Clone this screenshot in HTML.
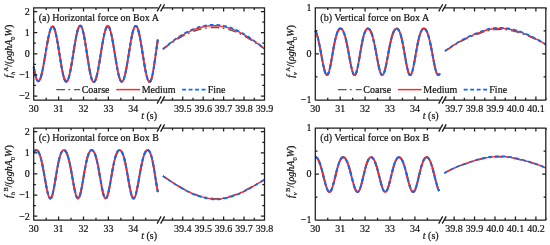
<!DOCTYPE html>
<html lang="en"><head><meta charset="utf-8"><title>Force histories</title>
<style>html,body{margin:0;padding:0;background:#fff;}svg{display:block;}text{stroke:#111;stroke-width:.2px;}</style>
</head><body>
<svg width="550" height="245" viewBox="0 0 550 245" font-family="'Liberation Serif', serif" font-size="10" fill="#111111">
<rect width="550" height="245" fill="#ffffff"/>
<g id="panel-a">
<g fill="none" stroke-linejoin="round">
<path d="M33.70,66.78 L34.01,68.51 L34.32,70.15 L34.63,71.71 L34.94,73.17 L35.26,74.53 L35.57,75.78 L35.88,76.91 L36.19,77.92 L36.50,78.81 L36.81,79.56 L37.12,80.17 L37.43,80.65 L37.75,80.98 L38.06,81.17 L38.37,81.21 L38.68,81.12 L38.99,80.90 L39.30,80.56 L39.61,80.09 L39.92,79.51 L40.24,78.80 L40.55,77.97 L40.86,77.03 L41.17,75.99 L41.48,74.84 L41.79,73.59 L42.10,72.25 L42.41,70.83 L42.73,69.33 L43.04,67.75 L43.35,66.11 L43.66,64.41 L43.97,62.66 L44.28,60.88 L44.59,59.06 L44.90,57.21 L45.22,55.35 L45.53,53.48 L45.84,51.62 L46.15,49.76 L46.46,47.92 L46.77,46.12 L47.08,44.34 L47.39,42.61 L47.71,40.94 L48.02,39.32 L48.33,37.78 L48.64,36.30 L48.95,34.91 L49.26,33.61 L49.57,32.40 L49.88,31.29 L50.20,30.29 L50.51,29.40 L50.82,28.62 L51.13,27.96 L51.44,27.41 L51.75,27.00 L52.06,26.71 L52.37,26.54 L52.69,26.50 L53.00,26.60 L53.31,26.84 L53.62,27.22 L53.93,27.73 L54.24,28.38 L54.55,29.16 L54.86,30.06 L55.18,31.09 L55.49,32.24 L55.80,33.49 L56.11,34.85 L56.42,36.31 L56.73,37.86 L57.04,39.50 L57.35,41.20 L57.67,42.97 L57.98,44.80 L58.29,46.68 L58.60,48.59 L58.91,50.53 L59.22,52.49 L59.53,54.46 L59.84,56.43 L60.16,58.38 L60.47,60.31 L60.78,62.21 L61.09,64.07 L61.40,65.88 L61.71,67.62 L62.02,69.30 L62.33,70.90 L62.65,72.42 L62.96,73.84 L63.27,75.16 L63.58,76.37 L63.89,77.47 L64.20,78.45 L64.51,79.30 L64.82,80.03 L65.14,80.63 L65.45,81.09 L65.76,81.41 L66.07,81.59 L66.38,81.63 L66.69,81.54 L67.00,81.30 L67.31,80.93 L67.63,80.43 L67.94,79.79 L68.25,79.03 L68.56,78.14 L68.87,77.13 L69.18,76.01 L69.49,74.77 L69.80,73.44 L70.12,72.00 L70.43,70.48 L70.74,68.87 L71.05,67.18 L71.36,65.43 L71.67,63.63 L71.98,61.77 L72.29,59.87 L72.61,57.95 L72.92,56.00 L73.23,54.04 L73.54,52.07 L73.85,50.12 L74.16,48.18 L74.47,46.27 L74.78,44.40 L75.10,42.57 L75.41,40.80 L75.72,39.09 L76.03,37.45 L76.34,35.89 L76.65,34.41 L76.96,33.04 L77.27,31.76 L77.59,30.59 L77.90,29.54 L78.21,28.60 L78.52,27.78 L78.83,27.10 L79.14,26.54 L79.45,26.12 L79.76,25.83 L80.08,25.68 L80.39,25.67 L80.70,25.80 L81.01,26.08 L81.32,26.51 L81.63,27.09 L81.94,27.80 L82.25,28.65 L82.57,29.64 L82.88,30.75 L83.19,31.99 L83.50,33.34 L83.81,34.80 L84.12,36.36 L84.43,38.02 L84.74,39.75 L85.06,41.57 L85.37,43.44 L85.68,45.38 L85.99,47.35 L86.30,49.36 L86.61,51.40 L86.92,53.45 L87.23,55.50 L87.55,57.54 L87.86,59.56 L88.17,61.55 L88.48,63.50 L88.79,65.40 L89.10,67.24 L89.41,69.01 L89.72,70.70 L90.04,72.30 L90.35,73.80 L90.66,75.19 L90.97,76.48 L91.28,77.64 L91.59,78.68 L91.90,79.59 L92.21,80.36 L92.53,80.99 L92.84,81.47 L93.15,81.82 L93.46,82.01 L93.77,82.05 L94.08,81.96 L94.39,81.73 L94.70,81.37 L95.02,80.88 L95.33,80.26 L95.64,79.51 L95.95,78.64 L96.26,77.65 L96.57,76.55 L96.88,75.34 L97.19,74.02 L97.51,72.61 L97.82,71.12 L98.13,69.54 L98.44,67.88 L98.75,66.16 L99.06,64.38 L99.37,62.55 L99.68,60.68 L100.00,58.78 L100.31,56.86 L100.62,54.92 L100.93,52.98 L101.24,51.04 L101.55,49.12 L101.86,47.22 L102.17,45.36 L102.49,43.54 L102.80,41.76 L103.11,40.05 L103.42,38.40 L103.73,36.83 L104.04,35.35 L104.35,33.95 L104.66,32.65 L104.98,31.45 L105.29,30.36 L105.60,29.39 L105.91,28.53 L106.22,27.80 L106.53,27.19 L106.84,26.71 L107.15,26.37 L107.47,26.15 L107.78,26.08 L108.09,26.13 L108.40,26.32 L108.71,26.65 L109.02,27.11 L109.33,27.69 L109.64,28.41 L109.96,29.24 L110.27,30.20 L110.58,31.27 L110.89,32.46 L111.20,33.74 L111.51,35.12 L111.82,36.60 L112.13,38.16 L112.45,39.79 L112.76,41.49 L113.07,43.26 L113.38,45.07 L113.69,46.93 L114.00,48.82 L114.31,50.74 L114.62,52.67 L114.94,54.61 L115.25,56.54 L115.56,58.46 L115.87,60.36 L116.18,62.23 L116.49,64.06 L116.80,65.83 L117.11,67.56 L117.43,69.21 L117.74,70.79 L118.05,72.29 L118.36,73.70 L118.67,75.01 L118.98,76.22 L119.29,77.33 L119.60,78.32 L119.92,79.19 L120.23,79.94 L120.54,80.56 L120.85,81.05 L121.16,81.41 L121.47,81.64 L121.78,81.74 L122.09,81.70 L122.41,81.52 L122.72,81.20 L123.03,80.75 L123.34,80.17 L123.65,79.46 L123.96,78.62 L124.27,77.66 L124.58,76.59 L124.90,75.40 L125.21,74.10 L125.52,72.71 L125.83,71.22 L126.14,69.65 L126.45,68.00 L126.76,66.28 L127.07,64.49 L127.39,62.66 L127.70,60.78 L128.01,58.87 L128.32,56.93 L128.63,54.98 L128.94,53.02 L129.25,51.06 L129.56,49.12 L129.88,47.20 L130.19,45.32 L130.50,43.47 L130.81,41.68 L131.12,39.95 L131.43,38.28 L131.74,36.69 L132.05,35.19 L132.37,33.77 L132.68,32.46 L132.99,31.25 L133.30,30.15 L133.61,29.16 L133.92,28.30 L134.23,27.56 L134.54,26.96 L134.86,26.48 L135.17,26.14 L135.48,25.93 L135.79,25.86 L136.10,25.94 L136.41,26.15 L136.72,26.49 L137.03,26.98 L137.35,27.60 L137.66,28.35 L137.97,29.24 L138.28,30.24 L138.59,31.36 L138.90,32.60 L139.21,33.94 L139.52,35.38 L139.84,36.92 L140.15,38.54 L140.46,40.23 L140.77,42.00 L141.08,43.82 L141.39,45.70 L141.70,47.61 L142.01,49.56 L142.33,51.53 L142.64,53.51 L142.95,55.49 L143.26,57.47 L143.57,59.43 L143.88,61.36 L144.19,63.25 L144.50,65.10 L144.82,66.89 L145.13,68.61 L145.44,70.26 L145.75,71.83 L146.06,73.31 L146.37,74.70 L146.68,75.97 L146.99,77.14 L147.31,78.19 L147.62,79.13 L147.93,79.93 L148.24,80.60 L148.55,81.14 L148.86,81.55 L149.17,81.81 L149.48,81.94 L149.80,81.92 L150.11,81.73 L150.42,81.36 L150.73,80.82 L151.04,80.11 L151.35,79.23 L151.66,78.19 L151.97,77.01 L152.29,75.67 L152.60,74.20 L152.91,72.61 L153.22,70.89 L153.53,69.07 L153.84,67.15 L154.15,65.15 L154.46,63.08 L154.78,60.95 L155.09,58.78 L155.40,56.57 L155.71,54.35 L156.02,52.13 L156.33,49.92 L156.64,47.73 L156.95,45.58 L157.27,43.49 L157.58,41.46 L157.89,39.50" stroke="#585858" stroke-width="1.9" stroke-dasharray="8.5 3.5 1.8 4"/>
<path d="M162.90,49.45 L164.37,48.29 L165.84,47.16 L167.32,46.05 L168.79,44.96 L170.26,43.90 L171.73,42.87 L173.21,41.87 L174.68,40.89 L176.15,39.95 L177.62,39.03 L179.10,38.15 L180.57,37.30 L182.04,36.48 L183.51,35.70 L184.99,34.95 L186.46,34.24 L187.93,33.57 L189.40,32.93 L190.88,32.32 L192.35,31.75 L193.82,31.22 L195.29,30.71 L196.77,30.24 L198.24,29.80 L199.71,29.39 L201.18,29.02 L202.66,28.68 L204.13,28.37 L205.60,28.11 L207.07,27.89 L208.55,27.71 L210.02,27.58 L211.49,27.49 L212.96,27.45 L214.44,27.44 L215.91,27.48 L217.38,27.56 L218.85,27.68 L220.33,27.84 L221.80,28.04 L223.27,28.29 L224.74,28.57 L226.22,28.89 L227.69,29.25 L229.16,29.65 L230.63,30.09 L232.11,30.57 L233.58,31.09 L235.05,31.65 L236.52,32.25 L238.00,32.89 L239.47,33.57 L240.94,34.29 L242.41,35.04 L243.89,35.83 L245.36,36.65 L246.83,37.49 L248.30,38.36 L249.78,39.25 L251.25,40.17 L252.72,41.09 L254.19,42.04 L255.67,42.99 L257.14,43.96 L258.61,44.93 L260.08,45.90 L261.56,46.88 L263.03,47.85 L264.50,48.82" stroke="#585858" stroke-width="1.4" stroke-dasharray="8.5 3.5 1.8 4"/>
<path d="M33.70,66.78 L34.01,68.51 L34.32,70.15 L34.63,71.71 L34.94,73.17 L35.26,74.53 L35.57,75.78 L35.88,76.91 L36.19,77.92 L36.50,78.81 L36.81,79.56 L37.12,80.17 L37.43,80.65 L37.75,80.98 L38.06,81.17 L38.37,81.21 L38.68,81.12 L38.99,80.90 L39.30,80.56 L39.61,80.09 L39.92,79.51 L40.24,78.80 L40.55,77.97 L40.86,77.03 L41.17,75.99 L41.48,74.84 L41.79,73.59 L42.10,72.25 L42.41,70.83 L42.73,69.33 L43.04,67.75 L43.35,66.11 L43.66,64.41 L43.97,62.66 L44.28,60.88 L44.59,59.06 L44.90,57.21 L45.22,55.35 L45.53,53.48 L45.84,51.62 L46.15,49.76 L46.46,47.92 L46.77,46.12 L47.08,44.34 L47.39,42.61 L47.71,40.94 L48.02,39.32 L48.33,37.78 L48.64,36.30 L48.95,34.91 L49.26,33.61 L49.57,32.40 L49.88,31.29 L50.20,30.29 L50.51,29.40 L50.82,28.62 L51.13,27.96 L51.44,27.41 L51.75,27.00 L52.06,26.71 L52.37,26.54 L52.69,26.50 L53.00,26.60 L53.31,26.84 L53.62,27.22 L53.93,27.73 L54.24,28.38 L54.55,29.16 L54.86,30.06 L55.18,31.09 L55.49,32.24 L55.80,33.49 L56.11,34.85 L56.42,36.31 L56.73,37.86 L57.04,39.50 L57.35,41.20 L57.67,42.97 L57.98,44.80 L58.29,46.68 L58.60,48.59 L58.91,50.53 L59.22,52.49 L59.53,54.46 L59.84,56.43 L60.16,58.38 L60.47,60.31 L60.78,62.21 L61.09,64.07 L61.40,65.88 L61.71,67.62 L62.02,69.30 L62.33,70.90 L62.65,72.42 L62.96,73.84 L63.27,75.16 L63.58,76.37 L63.89,77.47 L64.20,78.45 L64.51,79.30 L64.82,80.03 L65.14,80.63 L65.45,81.09 L65.76,81.41 L66.07,81.59 L66.38,81.63 L66.69,81.54 L67.00,81.30 L67.31,80.93 L67.63,80.43 L67.94,79.79 L68.25,79.03 L68.56,78.14 L68.87,77.13 L69.18,76.01 L69.49,74.77 L69.80,73.44 L70.12,72.00 L70.43,70.48 L70.74,68.87 L71.05,67.18 L71.36,65.43 L71.67,63.63 L71.98,61.77 L72.29,59.87 L72.61,57.95 L72.92,56.00 L73.23,54.04 L73.54,52.07 L73.85,50.12 L74.16,48.18 L74.47,46.27 L74.78,44.40 L75.10,42.57 L75.41,40.80 L75.72,39.09 L76.03,37.45 L76.34,35.89 L76.65,34.41 L76.96,33.04 L77.27,31.76 L77.59,30.59 L77.90,29.54 L78.21,28.60 L78.52,27.78 L78.83,27.10 L79.14,26.54 L79.45,26.12 L79.76,25.83 L80.08,25.68 L80.39,25.67 L80.70,25.80 L81.01,26.08 L81.32,26.51 L81.63,27.09 L81.94,27.80 L82.25,28.65 L82.57,29.64 L82.88,30.75 L83.19,31.99 L83.50,33.34 L83.81,34.80 L84.12,36.36 L84.43,38.02 L84.74,39.75 L85.06,41.57 L85.37,43.44 L85.68,45.38 L85.99,47.35 L86.30,49.36 L86.61,51.40 L86.92,53.45 L87.23,55.50 L87.55,57.54 L87.86,59.56 L88.17,61.55 L88.48,63.50 L88.79,65.40 L89.10,67.24 L89.41,69.01 L89.72,70.70 L90.04,72.30 L90.35,73.80 L90.66,75.19 L90.97,76.48 L91.28,77.64 L91.59,78.68 L91.90,79.59 L92.21,80.36 L92.53,80.99 L92.84,81.47 L93.15,81.82 L93.46,82.01 L93.77,82.05 L94.08,81.96 L94.39,81.73 L94.70,81.37 L95.02,80.88 L95.33,80.26 L95.64,79.51 L95.95,78.64 L96.26,77.65 L96.57,76.55 L96.88,75.34 L97.19,74.02 L97.51,72.61 L97.82,71.12 L98.13,69.54 L98.44,67.88 L98.75,66.16 L99.06,64.38 L99.37,62.55 L99.68,60.68 L100.00,58.78 L100.31,56.86 L100.62,54.92 L100.93,52.98 L101.24,51.04 L101.55,49.12 L101.86,47.22 L102.17,45.36 L102.49,43.54 L102.80,41.76 L103.11,40.05 L103.42,38.40 L103.73,36.83 L104.04,35.35 L104.35,33.95 L104.66,32.65 L104.98,31.45 L105.29,30.36 L105.60,29.39 L105.91,28.53 L106.22,27.80 L106.53,27.19 L106.84,26.71 L107.15,26.37 L107.47,26.15 L107.78,26.08 L108.09,26.13 L108.40,26.32 L108.71,26.65 L109.02,27.11 L109.33,27.69 L109.64,28.41 L109.96,29.24 L110.27,30.20 L110.58,31.27 L110.89,32.46 L111.20,33.74 L111.51,35.12 L111.82,36.60 L112.13,38.16 L112.45,39.79 L112.76,41.49 L113.07,43.26 L113.38,45.07 L113.69,46.93 L114.00,48.82 L114.31,50.74 L114.62,52.67 L114.94,54.61 L115.25,56.54 L115.56,58.46 L115.87,60.36 L116.18,62.23 L116.49,64.06 L116.80,65.83 L117.11,67.56 L117.43,69.21 L117.74,70.79 L118.05,72.29 L118.36,73.70 L118.67,75.01 L118.98,76.22 L119.29,77.33 L119.60,78.32 L119.92,79.19 L120.23,79.94 L120.54,80.56 L120.85,81.05 L121.16,81.41 L121.47,81.64 L121.78,81.74 L122.09,81.70 L122.41,81.52 L122.72,81.20 L123.03,80.75 L123.34,80.17 L123.65,79.46 L123.96,78.62 L124.27,77.66 L124.58,76.59 L124.90,75.40 L125.21,74.10 L125.52,72.71 L125.83,71.22 L126.14,69.65 L126.45,68.00 L126.76,66.28 L127.07,64.49 L127.39,62.66 L127.70,60.78 L128.01,58.87 L128.32,56.93 L128.63,54.98 L128.94,53.02 L129.25,51.06 L129.56,49.12 L129.88,47.20 L130.19,45.32 L130.50,43.47 L130.81,41.68 L131.12,39.95 L131.43,38.28 L131.74,36.69 L132.05,35.19 L132.37,33.77 L132.68,32.46 L132.99,31.25 L133.30,30.15 L133.61,29.16 L133.92,28.30 L134.23,27.56 L134.54,26.96 L134.86,26.48 L135.17,26.14 L135.48,25.93 L135.79,25.86 L136.10,25.94 L136.41,26.15 L136.72,26.49 L137.03,26.98 L137.35,27.60 L137.66,28.35 L137.97,29.24 L138.28,30.24 L138.59,31.36 L138.90,32.60 L139.21,33.94 L139.52,35.38 L139.84,36.92 L140.15,38.54 L140.46,40.23 L140.77,42.00 L141.08,43.82 L141.39,45.70 L141.70,47.61 L142.01,49.56 L142.33,51.53 L142.64,53.51 L142.95,55.49 L143.26,57.47 L143.57,59.43 L143.88,61.36 L144.19,63.25 L144.50,65.10 L144.82,66.89 L145.13,68.61 L145.44,70.26 L145.75,71.83 L146.06,73.31 L146.37,74.70 L146.68,75.97 L146.99,77.14 L147.31,78.19 L147.62,79.13 L147.93,79.93 L148.24,80.60 L148.55,81.14 L148.86,81.55 L149.17,81.81 L149.48,81.94 L149.80,81.92 L150.11,81.73 L150.42,81.36 L150.73,80.82 L151.04,80.11 L151.35,79.23 L151.66,78.19 L151.97,77.01 L152.29,75.67 L152.60,74.20 L152.91,72.61 L153.22,70.89 L153.53,69.07 L153.84,67.15 L154.15,65.15 L154.46,63.08 L154.78,60.95 L155.09,58.78 L155.40,56.57 L155.71,54.35 L156.02,52.13 L156.33,49.92 L156.64,47.73 L156.95,45.58 L157.27,43.49 L157.58,41.46 L157.89,39.50" stroke="#ff2626" stroke-width="1.9"/>
<path d="M162.90,49.17 L164.37,47.93 L165.84,46.72 L167.32,45.54 L168.79,44.38 L170.26,43.25 L171.73,42.15 L173.21,41.08 L174.68,40.04 L176.15,39.03 L177.62,38.06 L179.10,37.11 L180.57,36.21 L182.04,35.34 L183.51,34.50 L184.99,33.71 L186.46,32.95 L187.93,32.23 L189.40,31.55 L190.88,30.90 L192.35,30.29 L193.82,29.72 L195.29,29.19 L196.77,28.68 L198.24,28.21 L199.71,27.78 L201.18,27.38 L202.66,27.01 L204.13,26.69 L205.60,26.41 L207.07,26.18 L208.55,25.99 L210.02,25.85 L211.49,25.75 L212.96,25.70 L214.44,25.70 L215.91,25.74 L217.38,25.82 L218.85,25.95 L220.33,26.12 L221.80,26.34 L223.27,26.60 L224.74,26.90 L226.22,27.24 L227.69,27.62 L229.16,28.05 L230.63,28.52 L232.11,29.03 L233.58,29.59 L235.05,30.18 L236.52,30.82 L238.00,31.51 L239.47,32.23 L240.94,33.00 L242.41,33.80 L243.89,34.64 L245.36,35.51 L246.83,36.41 L248.30,37.34 L249.78,38.29 L251.25,39.27 L252.72,40.26 L254.19,41.26 L255.67,42.28 L257.14,43.31 L258.61,44.34 L260.08,45.38 L261.56,46.42 L263.03,47.46 L264.50,48.49" stroke="#ff2626" stroke-width="1.4"/>
<path d="M33.70,66.78 L34.01,68.51 L34.32,70.15 L34.63,71.71 L34.94,73.17 L35.26,74.53 L35.57,75.78 L35.88,76.91 L36.19,77.92 L36.50,78.81 L36.81,79.56 L37.12,80.17 L37.43,80.65 L37.75,80.98 L38.06,81.17 L38.37,81.21 L38.68,81.12 L38.99,80.90 L39.30,80.56 L39.61,80.09 L39.92,79.51 L40.24,78.80 L40.55,77.97 L40.86,77.03 L41.17,75.99 L41.48,74.84 L41.79,73.59 L42.10,72.25 L42.41,70.83 L42.73,69.33 L43.04,67.75 L43.35,66.11 L43.66,64.41 L43.97,62.66 L44.28,60.88 L44.59,59.06 L44.90,57.21 L45.22,55.35 L45.53,53.48 L45.84,51.62 L46.15,49.76 L46.46,47.92 L46.77,46.12 L47.08,44.34 L47.39,42.61 L47.71,40.94 L48.02,39.32 L48.33,37.78 L48.64,36.30 L48.95,34.91 L49.26,33.61 L49.57,32.40 L49.88,31.29 L50.20,30.29 L50.51,29.40 L50.82,28.62 L51.13,27.96 L51.44,27.41 L51.75,27.00 L52.06,26.71 L52.37,26.54 L52.69,26.50 L53.00,26.60 L53.31,26.84 L53.62,27.22 L53.93,27.73 L54.24,28.38 L54.55,29.16 L54.86,30.06 L55.18,31.09 L55.49,32.24 L55.80,33.49 L56.11,34.85 L56.42,36.31 L56.73,37.86 L57.04,39.50 L57.35,41.20 L57.67,42.97 L57.98,44.80 L58.29,46.68 L58.60,48.59 L58.91,50.53 L59.22,52.49 L59.53,54.46 L59.84,56.43 L60.16,58.38 L60.47,60.31 L60.78,62.21 L61.09,64.07 L61.40,65.88 L61.71,67.62 L62.02,69.30 L62.33,70.90 L62.65,72.42 L62.96,73.84 L63.27,75.16 L63.58,76.37 L63.89,77.47 L64.20,78.45 L64.51,79.30 L64.82,80.03 L65.14,80.63 L65.45,81.09 L65.76,81.41 L66.07,81.59 L66.38,81.63 L66.69,81.54 L67.00,81.30 L67.31,80.93 L67.63,80.43 L67.94,79.79 L68.25,79.03 L68.56,78.14 L68.87,77.13 L69.18,76.01 L69.49,74.77 L69.80,73.44 L70.12,72.00 L70.43,70.48 L70.74,68.87 L71.05,67.18 L71.36,65.43 L71.67,63.63 L71.98,61.77 L72.29,59.87 L72.61,57.95 L72.92,56.00 L73.23,54.04 L73.54,52.07 L73.85,50.12 L74.16,48.18 L74.47,46.27 L74.78,44.40 L75.10,42.57 L75.41,40.80 L75.72,39.09 L76.03,37.45 L76.34,35.89 L76.65,34.41 L76.96,33.04 L77.27,31.76 L77.59,30.59 L77.90,29.54 L78.21,28.60 L78.52,27.78 L78.83,27.10 L79.14,26.54 L79.45,26.12 L79.76,25.83 L80.08,25.68 L80.39,25.67 L80.70,25.80 L81.01,26.08 L81.32,26.51 L81.63,27.09 L81.94,27.80 L82.25,28.65 L82.57,29.64 L82.88,30.75 L83.19,31.99 L83.50,33.34 L83.81,34.80 L84.12,36.36 L84.43,38.02 L84.74,39.75 L85.06,41.57 L85.37,43.44 L85.68,45.38 L85.99,47.35 L86.30,49.36 L86.61,51.40 L86.92,53.45 L87.23,55.50 L87.55,57.54 L87.86,59.56 L88.17,61.55 L88.48,63.50 L88.79,65.40 L89.10,67.24 L89.41,69.01 L89.72,70.70 L90.04,72.30 L90.35,73.80 L90.66,75.19 L90.97,76.48 L91.28,77.64 L91.59,78.68 L91.90,79.59 L92.21,80.36 L92.53,80.99 L92.84,81.47 L93.15,81.82 L93.46,82.01 L93.77,82.05 L94.08,81.96 L94.39,81.73 L94.70,81.37 L95.02,80.88 L95.33,80.26 L95.64,79.51 L95.95,78.64 L96.26,77.65 L96.57,76.55 L96.88,75.34 L97.19,74.02 L97.51,72.61 L97.82,71.12 L98.13,69.54 L98.44,67.88 L98.75,66.16 L99.06,64.38 L99.37,62.55 L99.68,60.68 L100.00,58.78 L100.31,56.86 L100.62,54.92 L100.93,52.98 L101.24,51.04 L101.55,49.12 L101.86,47.22 L102.17,45.36 L102.49,43.54 L102.80,41.76 L103.11,40.05 L103.42,38.40 L103.73,36.83 L104.04,35.35 L104.35,33.95 L104.66,32.65 L104.98,31.45 L105.29,30.36 L105.60,29.39 L105.91,28.53 L106.22,27.80 L106.53,27.19 L106.84,26.71 L107.15,26.37 L107.47,26.15 L107.78,26.08 L108.09,26.13 L108.40,26.32 L108.71,26.65 L109.02,27.11 L109.33,27.69 L109.64,28.41 L109.96,29.24 L110.27,30.20 L110.58,31.27 L110.89,32.46 L111.20,33.74 L111.51,35.12 L111.82,36.60 L112.13,38.16 L112.45,39.79 L112.76,41.49 L113.07,43.26 L113.38,45.07 L113.69,46.93 L114.00,48.82 L114.31,50.74 L114.62,52.67 L114.94,54.61 L115.25,56.54 L115.56,58.46 L115.87,60.36 L116.18,62.23 L116.49,64.06 L116.80,65.83 L117.11,67.56 L117.43,69.21 L117.74,70.79 L118.05,72.29 L118.36,73.70 L118.67,75.01 L118.98,76.22 L119.29,77.33 L119.60,78.32 L119.92,79.19 L120.23,79.94 L120.54,80.56 L120.85,81.05 L121.16,81.41 L121.47,81.64 L121.78,81.74 L122.09,81.70 L122.41,81.52 L122.72,81.20 L123.03,80.75 L123.34,80.17 L123.65,79.46 L123.96,78.62 L124.27,77.66 L124.58,76.59 L124.90,75.40 L125.21,74.10 L125.52,72.71 L125.83,71.22 L126.14,69.65 L126.45,68.00 L126.76,66.28 L127.07,64.49 L127.39,62.66 L127.70,60.78 L128.01,58.87 L128.32,56.93 L128.63,54.98 L128.94,53.02 L129.25,51.06 L129.56,49.12 L129.88,47.20 L130.19,45.32 L130.50,43.47 L130.81,41.68 L131.12,39.95 L131.43,38.28 L131.74,36.69 L132.05,35.19 L132.37,33.77 L132.68,32.46 L132.99,31.25 L133.30,30.15 L133.61,29.16 L133.92,28.30 L134.23,27.56 L134.54,26.96 L134.86,26.48 L135.17,26.14 L135.48,25.93 L135.79,25.86 L136.10,25.94 L136.41,26.15 L136.72,26.49 L137.03,26.98 L137.35,27.60 L137.66,28.35 L137.97,29.24 L138.28,30.24 L138.59,31.36 L138.90,32.60 L139.21,33.94 L139.52,35.38 L139.84,36.92 L140.15,38.54 L140.46,40.23 L140.77,42.00 L141.08,43.82 L141.39,45.70 L141.70,47.61 L142.01,49.56 L142.33,51.53 L142.64,53.51 L142.95,55.49 L143.26,57.47 L143.57,59.43 L143.88,61.36 L144.19,63.25 L144.50,65.10 L144.82,66.89 L145.13,68.61 L145.44,70.26 L145.75,71.83 L146.06,73.31 L146.37,74.70 L146.68,75.97 L146.99,77.14 L147.31,78.19 L147.62,79.13 L147.93,79.93 L148.24,80.60 L148.55,81.14 L148.86,81.55 L149.17,81.81 L149.48,81.94 L149.80,81.92 L150.11,81.73 L150.42,81.36 L150.73,80.82 L151.04,80.11 L151.35,79.23 L151.66,78.19 L151.97,77.01 L152.29,75.67 L152.60,74.20 L152.91,72.61 L153.22,70.89 L153.53,69.07 L153.84,67.15 L154.15,65.15 L154.46,63.08 L154.78,60.95 L155.09,58.78 L155.40,56.57 L155.71,54.35 L156.02,52.13 L156.33,49.92 L156.64,47.73 L156.95,45.58 L157.27,43.49 L157.58,41.46 L157.89,39.50" stroke="#0a6cf5" stroke-width="2.0" stroke-dasharray="3.8 2.9"/>
<path d="M162.90,49.00 L164.37,47.72 L165.84,46.47 L167.32,45.24 L168.79,44.04 L170.26,42.87 L171.73,41.73 L173.21,40.62 L174.68,39.54 L176.15,38.50 L177.62,37.49 L179.10,36.51 L180.57,35.57 L182.04,34.67 L183.51,33.80 L184.99,32.98 L186.46,32.19 L187.93,31.45 L189.40,30.74 L190.88,30.07 L192.35,29.44 L193.82,28.85 L195.29,28.29 L196.77,27.77 L198.24,27.29 L199.71,26.84 L201.18,26.42 L202.66,26.05 L204.13,25.71 L205.60,25.42 L207.07,25.18 L208.55,24.98 L210.02,24.83 L211.49,24.74 L212.96,24.68 L214.44,24.68 L215.91,24.72 L217.38,24.81 L218.85,24.94 L220.33,25.12 L221.80,25.35 L223.27,25.61 L224.74,25.92 L226.22,26.28 L227.69,26.68 L229.16,27.12 L230.63,27.60 L232.11,28.13 L233.58,28.71 L235.05,29.33 L236.52,29.99 L238.00,30.70 L239.47,31.45 L240.94,32.24 L242.41,33.08 L243.89,33.95 L245.36,34.85 L246.83,35.78 L248.30,36.75 L249.78,37.73 L251.25,38.74 L252.72,39.77 L254.19,40.81 L255.67,41.86 L257.14,42.93 L258.61,44.00 L260.08,45.08 L261.56,46.15 L263.03,47.23 L264.50,48.30" stroke="#0a6cf5" stroke-width="1.6" stroke-dasharray="3.8 2.9"/>
</g>
<path d="M33.70,7.80 H158.20 M162.30,7.80 H264.50 M33.70,100.00 H158.20 M162.30,100.00 H264.50 M33.70,7.30 V100.50 M264.50,7.30 V100.50 M33.70,100.00 v-3.6 M33.70,7.80 v3.6 M46.15,100.00 v-2.2 M46.15,7.80 v2.2 M58.60,100.00 v-3.6 M58.60,7.80 v3.6 M71.05,100.00 v-2.2 M71.05,7.80 v2.2 M83.50,100.00 v-3.6 M83.50,7.80 v3.6 M95.95,100.00 v-2.2 M95.95,7.80 v2.2 M108.40,100.00 v-3.6 M108.40,7.80 v3.6 M120.85,100.00 v-2.2 M120.85,7.80 v2.2 M133.30,100.00 v-3.6 M133.30,7.80 v3.6 M145.75,100.00 v-2.2 M145.75,7.80 v2.2 M172.52,100.00 v-2.2 M172.52,7.80 v2.2 M182.74,100.00 v-3.6 M182.74,7.80 v3.6 M192.96,100.00 v-2.2 M192.96,7.80 v2.2 M203.18,100.00 v-3.6 M203.18,7.80 v3.6 M213.40,100.00 v-2.2 M213.40,7.80 v2.2 M223.62,100.00 v-3.6 M223.62,7.80 v3.6 M233.84,100.00 v-2.2 M233.84,7.80 v2.2 M244.06,100.00 v-3.6 M244.06,7.80 v3.6 M254.28,100.00 v-2.2 M254.28,7.80 v2.2 M264.50,100.00 v-3.6 M264.50,7.80 v3.6 M33.70,96.00 h3.6 M264.50,96.00 h-3.6 M33.70,85.44 h2.2 M264.50,85.44 h-2.2 M33.70,74.88 h3.6 M264.50,74.88 h-3.6 M33.70,64.31 h2.2 M264.50,64.31 h-2.2 M33.70,53.75 h3.6 M264.50,53.75 h-3.6 M33.70,43.19 h2.2 M264.50,43.19 h-2.2 M33.70,32.62 h3.6 M264.50,32.62 h-3.6 M33.70,22.06 h2.2 M264.50,22.06 h-2.2 M33.70,11.50 h3.6 M264.50,11.50 h-3.6" fill="none" stroke="#1c1c1c" stroke-width="1.25"/>
<path d="M157.10,11.40 L161.10,4.20 M160.60,11.40 L164.60,4.20 M157.10,103.60 L161.10,96.40 M160.60,103.60 L164.60,96.40" fill="none" stroke="#1c1c1c" stroke-width="1.3"/>
<g text-anchor="middle">
<text x="33.7" y="112.1">30</text>
<text x="58.6" y="112.1">31</text>
<text x="83.5" y="112.1">32</text>
<text x="108.4" y="112.1">33</text>
<text x="133.3" y="112.1">34</text>
<text x="182.7" y="112.1">39.5</text>
<text x="203.2" y="112.1">39.6</text>
<text x="223.6" y="112.1">39.7</text>
<text x="244.1" y="112.1">39.8</text>
<text x="264.5" y="112.1">39.9</text>
</g>
<g text-anchor="end">
<text x="29.8" y="14.8">2</text>
<text x="29.8" y="35.9">1</text>
<text x="29.8" y="57.0">0</text>
<text x="29.8" y="78.2">−1</text>
<text x="29.8" y="99.3">−2</text>
</g>
<text x="149.1" y="119.2" text-anchor="middle"><tspan font-style="italic">t</tspan> (s)</text>
<text x="38.7" y="20.6">(a) Horizontal force on Box A</text>
<text transform="translate(12.1,77.8) rotate(-90)" font-style="italic"><tspan>f</tspan><tspan font-size="6.5" dy="2.7">h</tspan><tspan font-size="6.5" dy="-6.9" dx="0.4" font-style="normal">A</tspan><tspan dy="4.2" font-style="normal">/(</tspan><tspan>ρghA</tspan><tspan font-size="6.5" dy="2.8" font-style="normal">0</tspan><tspan dy="-2.8">W</tspan><tspan font-style="normal">)</tspan></text>
<g fill="none" stroke-width="1.45">
<path d="M56.3,89.6 h23.8" stroke="#585858" stroke-dasharray="8.7 3.3 1.8 4"/>
<path d="M116.3,89.6 h23.7" stroke="#ff2626"/>
<path d="M182.1,89.6 h23.4" stroke="#0a6cf5" stroke-width="1.7" stroke-dasharray="3.9 2.6"/>
</g>
<text x="81.7" y="92.9">Coarse</text>
<text x="141.7" y="92.9">Medium</text>
<text x="207.7" y="92.9">Fine</text>
</g>
<g id="panel-b">
<g fill="none" stroke-linejoin="round">
<path d="M315.30,30.72 L315.61,31.31 L315.92,31.97 L316.23,32.72 L316.54,33.54 L316.86,34.44 L317.17,35.42 L317.48,36.47 L317.79,37.61 L318.10,38.82 L318.41,40.10 L318.72,41.46 L319.03,42.88 L319.35,44.36 L319.66,45.90 L319.97,47.49 L320.28,49.12 L320.59,50.79 L320.90,52.48 L321.21,54.19 L321.52,55.90 L321.84,57.61 L322.15,59.30 L322.46,60.97 L322.77,62.59 L323.08,64.16 L323.39,65.67 L323.70,67.10 L324.01,68.44 L324.33,69.69 L324.64,70.82 L324.95,71.84 L325.26,72.74 L325.57,73.49 L325.88,74.11 L326.19,74.59 L326.50,74.91 L326.82,75.08 L327.13,75.09 L327.44,74.94 L327.75,74.61 L328.06,74.12 L328.37,73.46 L328.68,72.65 L328.99,71.69 L329.31,70.59 L329.62,69.36 L329.93,68.02 L330.24,66.57 L330.55,65.02 L330.86,63.40 L331.17,61.71 L331.48,59.97 L331.80,58.20 L332.11,56.40 L332.42,54.59 L332.73,52.79 L333.04,51.00 L333.35,49.23 L333.66,47.51 L333.97,45.83 L334.29,44.21 L334.60,42.65 L334.91,41.16 L335.22,39.75 L335.53,38.42 L335.84,37.17 L336.15,36.00 L336.46,34.93 L336.78,33.94 L337.09,33.04 L337.40,32.22 L337.71,31.49 L338.02,30.85 L338.33,30.29 L338.64,29.80 L338.95,29.40 L339.27,29.08 L339.58,28.84 L339.89,28.66 L340.20,28.57 L340.51,28.55 L340.82,28.59 L341.13,28.71 L341.44,28.89 L341.76,29.13 L342.07,29.45 L342.38,29.84 L342.69,30.30 L343.00,30.83 L343.31,31.43 L343.62,32.12 L343.93,32.87 L344.25,33.71 L344.56,34.63 L344.87,35.62 L345.18,36.69 L345.49,37.84 L345.80,39.07 L346.11,40.37 L346.42,41.73 L346.74,43.17 L347.05,44.66 L347.36,46.22 L347.67,47.81 L347.98,49.45 L348.29,51.13 L348.60,52.82 L348.91,54.53 L349.23,56.25 L349.54,57.95 L349.85,59.64 L350.16,61.30 L350.47,62.91 L350.78,64.47 L351.09,65.96 L351.40,67.37 L351.72,68.70 L352.03,69.92 L352.34,71.04 L352.65,72.03 L352.96,72.90 L353.27,73.63 L353.58,74.22 L353.89,74.66 L354.21,74.95 L354.52,75.09 L354.83,75.07 L355.14,74.88 L355.45,74.50 L355.76,73.96 L356.07,73.25 L356.38,72.37 L356.70,71.35 L357.01,70.18 L357.32,68.89 L357.63,67.48 L357.94,65.96 L358.25,64.35 L358.56,62.67 L358.87,60.92 L359.19,59.13 L359.50,57.31 L359.81,55.47 L360.12,53.63 L360.43,51.80 L360.74,49.99 L361.05,48.21 L361.36,46.48 L361.68,44.81 L361.99,43.20 L362.30,41.66 L362.61,40.19 L362.92,38.81 L363.23,37.51 L363.54,36.30 L363.85,35.18 L364.17,34.15 L364.48,33.21 L364.79,32.36 L365.10,31.61 L365.41,30.94 L365.72,30.35 L366.03,29.85 L366.34,29.44 L366.66,29.10 L366.97,28.85 L367.28,28.67 L367.59,28.57 L367.90,28.55 L368.21,28.59 L368.52,28.70 L368.83,28.87 L369.15,29.11 L369.46,29.42 L369.77,29.79 L370.08,30.24 L370.39,30.75 L370.70,31.33 L371.01,31.99 L371.32,32.72 L371.64,33.53 L371.95,34.41 L372.26,35.37 L372.57,36.40 L372.88,37.51 L373.19,38.70 L373.50,39.95 L373.81,41.27 L374.13,42.66 L374.44,44.11 L374.75,45.62 L375.06,47.17 L375.37,48.77 L375.68,50.40 L375.99,52.06 L376.30,53.73 L376.62,55.41 L376.93,57.10 L377.24,58.76 L377.55,60.41 L377.86,62.02 L378.17,63.58 L378.48,65.09 L378.79,66.53 L379.11,67.88 L379.42,69.15 L379.73,70.32 L380.04,71.37 L380.35,72.31 L380.66,73.12 L380.97,73.80 L381.28,74.35 L381.60,74.75 L381.91,75.00 L382.22,75.10 L382.53,75.06 L382.84,74.86 L383.15,74.52 L383.46,74.04 L383.77,73.41 L384.09,72.65 L384.40,71.76 L384.71,70.75 L385.02,69.63 L385.33,68.40 L385.64,67.08 L385.95,65.67 L386.26,64.19 L386.58,62.65 L386.89,61.06 L387.20,59.43 L387.51,57.77 L387.82,56.09 L388.13,54.40 L388.44,52.72 L388.75,51.06 L389.07,49.41 L389.38,47.80 L389.69,46.23 L390.00,44.71 L390.31,43.24 L390.62,41.82 L390.93,40.47 L391.24,39.19 L391.56,37.98 L391.87,36.84 L392.18,35.77 L392.49,34.79 L392.80,33.87 L393.11,33.04 L393.42,32.27 L393.73,31.59 L394.05,30.97 L394.36,30.43 L394.67,29.96 L394.98,29.56 L395.29,29.23 L395.60,28.96 L395.91,28.76 L396.22,28.63 L396.54,28.56 L396.85,28.55 L397.16,28.62 L397.47,28.76 L397.78,28.97 L398.09,29.27 L398.40,29.64 L398.71,30.08 L399.03,30.61 L399.34,31.22 L399.65,31.92 L399.96,32.70 L400.27,33.57 L400.58,34.52 L400.89,35.56 L401.20,36.69 L401.52,37.91 L401.83,39.21 L402.14,40.59 L402.45,42.05 L402.76,43.58 L403.07,45.18 L403.38,46.83 L403.69,48.54 L404.01,50.29 L404.32,52.07 L404.63,53.87 L404.94,55.68 L405.25,57.48 L405.56,59.27 L405.87,61.02 L406.18,62.73 L406.50,64.38 L406.81,65.96 L407.12,67.45 L407.43,68.84 L407.74,70.12 L408.05,71.27 L408.36,72.29 L408.67,73.16 L408.99,73.88 L409.30,74.43 L409.61,74.83 L409.92,75.05 L410.23,75.10 L410.54,74.99 L410.85,74.71 L411.16,74.26 L411.48,73.66 L411.79,72.91 L412.10,72.01 L412.41,70.97 L412.72,69.81 L413.03,68.53 L413.34,67.14 L413.65,65.66 L413.97,64.09 L414.28,62.46 L414.59,60.78 L414.90,59.05 L415.21,57.29 L415.52,55.52 L415.83,53.74 L416.14,51.98 L416.46,50.23 L416.77,48.51 L417.08,46.84 L417.39,45.21 L417.70,43.64 L418.01,42.14 L418.32,40.70 L418.63,39.34 L418.95,38.05 L419.26,36.85 L419.57,35.73 L419.88,34.69 L420.19,33.74 L420.50,32.87 L420.81,32.08 L421.12,31.38 L421.44,30.76 L421.75,30.22 L422.06,29.76 L422.37,29.37 L422.68,29.06 L422.99,28.83 L423.30,28.66 L423.61,28.57 L423.93,28.55 L424.24,28.59 L424.55,28.70 L424.86,28.87 L425.17,29.11 L425.48,29.42 L425.79,29.79 L426.10,30.24 L426.42,30.75 L426.73,31.33 L427.04,31.99 L427.35,32.72 L427.66,33.53 L427.97,34.41 L428.28,35.37 L428.59,36.40 L428.91,37.51 L429.22,38.70 L429.53,39.95 L429.84,41.27 L430.15,42.66 L430.46,44.11 L430.77,45.62 L431.08,47.17 L431.40,48.77 L431.71,50.40 L432.02,52.06 L432.33,53.73 L432.64,55.41 L432.95,57.10 L433.26,58.76 L433.57,60.41 L433.89,62.02 L434.20,63.58 L434.51,65.09 L434.82,66.53 L435.13,67.88 L435.44,69.15 L435.75,70.32 L436.06,71.37 L436.38,72.31 L436.69,73.12 L437.00,73.80 L437.31,74.35 L437.62,74.75 L437.93,75.00 L438.24,75.10 L438.55,75.05 L438.87,74.85 L439.18,74.48 L439.49,73.96 L439.80,73.29" stroke="#585858" stroke-width="1.9" stroke-dasharray="8.5 3.5 1.8 4"/>
<path d="M445.00,51.19 L446.46,50.21 L447.92,49.25 L449.38,48.30 L450.84,47.36 L452.30,46.44 L453.77,45.54 L455.23,44.65 L456.69,43.79 L458.15,42.94 L459.61,42.12 L461.07,41.33 L462.53,40.56 L463.99,39.82 L465.45,39.10 L466.91,38.42 L468.37,37.77 L469.83,37.14 L471.30,36.54 L472.76,35.96 L474.22,35.40 L475.68,34.84 L477.14,34.30 L478.60,33.76 L480.06,33.22 L481.52,32.68 L482.98,32.16 L484.44,31.67 L485.90,31.22 L487.37,30.84 L488.83,30.51 L490.29,30.23 L491.75,30.00 L493.21,29.81 L494.67,29.65 L496.13,29.53 L497.59,29.45 L499.05,29.41 L500.51,29.40 L501.97,29.44 L503.43,29.51 L504.90,29.62 L506.36,29.78 L507.82,29.98 L509.28,30.21 L510.74,30.49 L512.20,30.80 L513.66,31.14 L515.12,31.52 L516.58,31.92 L518.04,32.35 L519.50,32.80 L520.97,33.28 L522.43,33.78 L523.89,34.31 L525.35,34.86 L526.81,35.43 L528.27,36.03 L529.73,36.65 L531.19,37.29 L532.65,37.96 L534.11,38.65 L535.57,39.36 L537.03,40.09 L538.50,40.84 L539.96,41.62 L541.42,42.41 L542.88,43.23 L544.34,44.07 L545.80,44.92" stroke="#585858" stroke-width="1.4" stroke-dasharray="8.5 3.5 1.8 4"/>
<path d="M315.30,30.72 L315.61,31.31 L315.92,31.97 L316.23,32.72 L316.54,33.54 L316.86,34.44 L317.17,35.42 L317.48,36.47 L317.79,37.61 L318.10,38.82 L318.41,40.10 L318.72,41.46 L319.03,42.88 L319.35,44.36 L319.66,45.90 L319.97,47.49 L320.28,49.12 L320.59,50.79 L320.90,52.48 L321.21,54.19 L321.52,55.90 L321.84,57.61 L322.15,59.30 L322.46,60.97 L322.77,62.59 L323.08,64.16 L323.39,65.67 L323.70,67.10 L324.01,68.44 L324.33,69.69 L324.64,70.82 L324.95,71.84 L325.26,72.74 L325.57,73.49 L325.88,74.11 L326.19,74.59 L326.50,74.91 L326.82,75.08 L327.13,75.09 L327.44,74.94 L327.75,74.61 L328.06,74.12 L328.37,73.46 L328.68,72.65 L328.99,71.69 L329.31,70.59 L329.62,69.36 L329.93,68.02 L330.24,66.57 L330.55,65.02 L330.86,63.40 L331.17,61.71 L331.48,59.97 L331.80,58.20 L332.11,56.40 L332.42,54.59 L332.73,52.79 L333.04,51.00 L333.35,49.23 L333.66,47.51 L333.97,45.83 L334.29,44.21 L334.60,42.65 L334.91,41.16 L335.22,39.75 L335.53,38.42 L335.84,37.17 L336.15,36.00 L336.46,34.93 L336.78,33.94 L337.09,33.04 L337.40,32.22 L337.71,31.49 L338.02,30.85 L338.33,30.29 L338.64,29.80 L338.95,29.40 L339.27,29.08 L339.58,28.84 L339.89,28.66 L340.20,28.57 L340.51,28.55 L340.82,28.59 L341.13,28.71 L341.44,28.89 L341.76,29.13 L342.07,29.45 L342.38,29.84 L342.69,30.30 L343.00,30.83 L343.31,31.43 L343.62,32.12 L343.93,32.87 L344.25,33.71 L344.56,34.63 L344.87,35.62 L345.18,36.69 L345.49,37.84 L345.80,39.07 L346.11,40.37 L346.42,41.73 L346.74,43.17 L347.05,44.66 L347.36,46.22 L347.67,47.81 L347.98,49.45 L348.29,51.13 L348.60,52.82 L348.91,54.53 L349.23,56.25 L349.54,57.95 L349.85,59.64 L350.16,61.30 L350.47,62.91 L350.78,64.47 L351.09,65.96 L351.40,67.37 L351.72,68.70 L352.03,69.92 L352.34,71.04 L352.65,72.03 L352.96,72.90 L353.27,73.63 L353.58,74.22 L353.89,74.66 L354.21,74.95 L354.52,75.09 L354.83,75.07 L355.14,74.88 L355.45,74.50 L355.76,73.96 L356.07,73.25 L356.38,72.37 L356.70,71.35 L357.01,70.18 L357.32,68.89 L357.63,67.48 L357.94,65.96 L358.25,64.35 L358.56,62.67 L358.87,60.92 L359.19,59.13 L359.50,57.31 L359.81,55.47 L360.12,53.63 L360.43,51.80 L360.74,49.99 L361.05,48.21 L361.36,46.48 L361.68,44.81 L361.99,43.20 L362.30,41.66 L362.61,40.19 L362.92,38.81 L363.23,37.51 L363.54,36.30 L363.85,35.18 L364.17,34.15 L364.48,33.21 L364.79,32.36 L365.10,31.61 L365.41,30.94 L365.72,30.35 L366.03,29.85 L366.34,29.44 L366.66,29.10 L366.97,28.85 L367.28,28.67 L367.59,28.57 L367.90,28.55 L368.21,28.59 L368.52,28.70 L368.83,28.87 L369.15,29.11 L369.46,29.42 L369.77,29.79 L370.08,30.24 L370.39,30.75 L370.70,31.33 L371.01,31.99 L371.32,32.72 L371.64,33.53 L371.95,34.41 L372.26,35.37 L372.57,36.40 L372.88,37.51 L373.19,38.70 L373.50,39.95 L373.81,41.27 L374.13,42.66 L374.44,44.11 L374.75,45.62 L375.06,47.17 L375.37,48.77 L375.68,50.40 L375.99,52.06 L376.30,53.73 L376.62,55.41 L376.93,57.10 L377.24,58.76 L377.55,60.41 L377.86,62.02 L378.17,63.58 L378.48,65.09 L378.79,66.53 L379.11,67.88 L379.42,69.15 L379.73,70.32 L380.04,71.37 L380.35,72.31 L380.66,73.12 L380.97,73.80 L381.28,74.35 L381.60,74.75 L381.91,75.00 L382.22,75.10 L382.53,75.06 L382.84,74.86 L383.15,74.52 L383.46,74.04 L383.77,73.41 L384.09,72.65 L384.40,71.76 L384.71,70.75 L385.02,69.63 L385.33,68.40 L385.64,67.08 L385.95,65.67 L386.26,64.19 L386.58,62.65 L386.89,61.06 L387.20,59.43 L387.51,57.77 L387.82,56.09 L388.13,54.40 L388.44,52.72 L388.75,51.06 L389.07,49.41 L389.38,47.80 L389.69,46.23 L390.00,44.71 L390.31,43.24 L390.62,41.82 L390.93,40.47 L391.24,39.19 L391.56,37.98 L391.87,36.84 L392.18,35.77 L392.49,34.79 L392.80,33.87 L393.11,33.04 L393.42,32.27 L393.73,31.59 L394.05,30.97 L394.36,30.43 L394.67,29.96 L394.98,29.56 L395.29,29.23 L395.60,28.96 L395.91,28.76 L396.22,28.63 L396.54,28.56 L396.85,28.55 L397.16,28.62 L397.47,28.76 L397.78,28.97 L398.09,29.27 L398.40,29.64 L398.71,30.08 L399.03,30.61 L399.34,31.22 L399.65,31.92 L399.96,32.70 L400.27,33.57 L400.58,34.52 L400.89,35.56 L401.20,36.69 L401.52,37.91 L401.83,39.21 L402.14,40.59 L402.45,42.05 L402.76,43.58 L403.07,45.18 L403.38,46.83 L403.69,48.54 L404.01,50.29 L404.32,52.07 L404.63,53.87 L404.94,55.68 L405.25,57.48 L405.56,59.27 L405.87,61.02 L406.18,62.73 L406.50,64.38 L406.81,65.96 L407.12,67.45 L407.43,68.84 L407.74,70.12 L408.05,71.27 L408.36,72.29 L408.67,73.16 L408.99,73.88 L409.30,74.43 L409.61,74.83 L409.92,75.05 L410.23,75.10 L410.54,74.99 L410.85,74.71 L411.16,74.26 L411.48,73.66 L411.79,72.91 L412.10,72.01 L412.41,70.97 L412.72,69.81 L413.03,68.53 L413.34,67.14 L413.65,65.66 L413.97,64.09 L414.28,62.46 L414.59,60.78 L414.90,59.05 L415.21,57.29 L415.52,55.52 L415.83,53.74 L416.14,51.98 L416.46,50.23 L416.77,48.51 L417.08,46.84 L417.39,45.21 L417.70,43.64 L418.01,42.14 L418.32,40.70 L418.63,39.34 L418.95,38.05 L419.26,36.85 L419.57,35.73 L419.88,34.69 L420.19,33.74 L420.50,32.87 L420.81,32.08 L421.12,31.38 L421.44,30.76 L421.75,30.22 L422.06,29.76 L422.37,29.37 L422.68,29.06 L422.99,28.83 L423.30,28.66 L423.61,28.57 L423.93,28.55 L424.24,28.59 L424.55,28.70 L424.86,28.87 L425.17,29.11 L425.48,29.42 L425.79,29.79 L426.10,30.24 L426.42,30.75 L426.73,31.33 L427.04,31.99 L427.35,32.72 L427.66,33.53 L427.97,34.41 L428.28,35.37 L428.59,36.40 L428.91,37.51 L429.22,38.70 L429.53,39.95 L429.84,41.27 L430.15,42.66 L430.46,44.11 L430.77,45.62 L431.08,47.17 L431.40,48.77 L431.71,50.40 L432.02,52.06 L432.33,53.73 L432.64,55.41 L432.95,57.10 L433.26,58.76 L433.57,60.41 L433.89,62.02 L434.20,63.58 L434.51,65.09 L434.82,66.53 L435.13,67.88 L435.44,69.15 L435.75,70.32 L436.06,71.37 L436.38,72.31 L436.69,73.12 L437.00,73.80 L437.31,74.35 L437.62,74.75 L437.93,75.00 L438.24,75.10 L438.55,75.05 L438.87,74.85 L439.18,74.48 L439.49,73.96 L439.80,73.29" stroke="#ff2626" stroke-width="1.9"/>
<path d="M445.00,51.07 L446.46,50.05 L447.92,49.05 L449.38,48.06 L450.84,47.08 L452.30,46.12 L453.77,45.18 L455.23,44.25 L456.69,43.35 L458.15,42.47 L459.61,41.62 L461.07,40.79 L462.53,39.99 L463.99,39.21 L465.45,38.47 L466.91,37.76 L468.37,37.08 L469.83,36.43 L471.30,35.80 L472.76,35.19 L474.22,34.61 L475.68,34.03 L477.14,33.46 L478.60,32.89 L480.06,32.33 L481.52,31.77 L482.98,31.23 L484.44,30.72 L485.90,30.25 L487.37,29.85 L488.83,29.51 L490.29,29.22 L491.75,28.98 L493.21,28.78 L494.67,28.62 L496.13,28.49 L497.59,28.41 L499.05,28.36 L500.51,28.36 L501.97,28.39 L503.43,28.47 L504.90,28.59 L506.36,28.75 L507.82,28.95 L509.28,29.20 L510.74,29.49 L512.20,29.81 L513.66,30.17 L515.12,30.56 L516.58,30.98 L518.04,31.43 L519.50,31.90 L520.97,32.40 L522.43,32.92 L523.89,33.47 L525.35,34.05 L526.81,34.64 L528.27,35.27 L529.73,35.91 L531.19,36.58 L532.65,37.28 L534.11,37.99 L535.57,38.73 L537.03,39.50 L538.50,40.28 L539.96,41.09 L541.42,41.92 L542.88,42.77 L544.34,43.65 L545.80,44.54" stroke="#ff2626" stroke-width="1.4"/>
<path d="M315.30,30.72 L315.61,31.31 L315.92,31.97 L316.23,32.72 L316.54,33.54 L316.86,34.44 L317.17,35.42 L317.48,36.47 L317.79,37.61 L318.10,38.82 L318.41,40.10 L318.72,41.46 L319.03,42.88 L319.35,44.36 L319.66,45.90 L319.97,47.49 L320.28,49.12 L320.59,50.79 L320.90,52.48 L321.21,54.19 L321.52,55.90 L321.84,57.61 L322.15,59.30 L322.46,60.97 L322.77,62.59 L323.08,64.16 L323.39,65.67 L323.70,67.10 L324.01,68.44 L324.33,69.69 L324.64,70.82 L324.95,71.84 L325.26,72.74 L325.57,73.49 L325.88,74.11 L326.19,74.59 L326.50,74.91 L326.82,75.08 L327.13,75.09 L327.44,74.94 L327.75,74.61 L328.06,74.12 L328.37,73.46 L328.68,72.65 L328.99,71.69 L329.31,70.59 L329.62,69.36 L329.93,68.02 L330.24,66.57 L330.55,65.02 L330.86,63.40 L331.17,61.71 L331.48,59.97 L331.80,58.20 L332.11,56.40 L332.42,54.59 L332.73,52.79 L333.04,51.00 L333.35,49.23 L333.66,47.51 L333.97,45.83 L334.29,44.21 L334.60,42.65 L334.91,41.16 L335.22,39.75 L335.53,38.42 L335.84,37.17 L336.15,36.00 L336.46,34.93 L336.78,33.94 L337.09,33.04 L337.40,32.22 L337.71,31.49 L338.02,30.85 L338.33,30.29 L338.64,29.80 L338.95,29.40 L339.27,29.08 L339.58,28.84 L339.89,28.66 L340.20,28.57 L340.51,28.55 L340.82,28.59 L341.13,28.71 L341.44,28.89 L341.76,29.13 L342.07,29.45 L342.38,29.84 L342.69,30.30 L343.00,30.83 L343.31,31.43 L343.62,32.12 L343.93,32.87 L344.25,33.71 L344.56,34.63 L344.87,35.62 L345.18,36.69 L345.49,37.84 L345.80,39.07 L346.11,40.37 L346.42,41.73 L346.74,43.17 L347.05,44.66 L347.36,46.22 L347.67,47.81 L347.98,49.45 L348.29,51.13 L348.60,52.82 L348.91,54.53 L349.23,56.25 L349.54,57.95 L349.85,59.64 L350.16,61.30 L350.47,62.91 L350.78,64.47 L351.09,65.96 L351.40,67.37 L351.72,68.70 L352.03,69.92 L352.34,71.04 L352.65,72.03 L352.96,72.90 L353.27,73.63 L353.58,74.22 L353.89,74.66 L354.21,74.95 L354.52,75.09 L354.83,75.07 L355.14,74.88 L355.45,74.50 L355.76,73.96 L356.07,73.25 L356.38,72.37 L356.70,71.35 L357.01,70.18 L357.32,68.89 L357.63,67.48 L357.94,65.96 L358.25,64.35 L358.56,62.67 L358.87,60.92 L359.19,59.13 L359.50,57.31 L359.81,55.47 L360.12,53.63 L360.43,51.80 L360.74,49.99 L361.05,48.21 L361.36,46.48 L361.68,44.81 L361.99,43.20 L362.30,41.66 L362.61,40.19 L362.92,38.81 L363.23,37.51 L363.54,36.30 L363.85,35.18 L364.17,34.15 L364.48,33.21 L364.79,32.36 L365.10,31.61 L365.41,30.94 L365.72,30.35 L366.03,29.85 L366.34,29.44 L366.66,29.10 L366.97,28.85 L367.28,28.67 L367.59,28.57 L367.90,28.55 L368.21,28.59 L368.52,28.70 L368.83,28.87 L369.15,29.11 L369.46,29.42 L369.77,29.79 L370.08,30.24 L370.39,30.75 L370.70,31.33 L371.01,31.99 L371.32,32.72 L371.64,33.53 L371.95,34.41 L372.26,35.37 L372.57,36.40 L372.88,37.51 L373.19,38.70 L373.50,39.95 L373.81,41.27 L374.13,42.66 L374.44,44.11 L374.75,45.62 L375.06,47.17 L375.37,48.77 L375.68,50.40 L375.99,52.06 L376.30,53.73 L376.62,55.41 L376.93,57.10 L377.24,58.76 L377.55,60.41 L377.86,62.02 L378.17,63.58 L378.48,65.09 L378.79,66.53 L379.11,67.88 L379.42,69.15 L379.73,70.32 L380.04,71.37 L380.35,72.31 L380.66,73.12 L380.97,73.80 L381.28,74.35 L381.60,74.75 L381.91,75.00 L382.22,75.10 L382.53,75.06 L382.84,74.86 L383.15,74.52 L383.46,74.04 L383.77,73.41 L384.09,72.65 L384.40,71.76 L384.71,70.75 L385.02,69.63 L385.33,68.40 L385.64,67.08 L385.95,65.67 L386.26,64.19 L386.58,62.65 L386.89,61.06 L387.20,59.43 L387.51,57.77 L387.82,56.09 L388.13,54.40 L388.44,52.72 L388.75,51.06 L389.07,49.41 L389.38,47.80 L389.69,46.23 L390.00,44.71 L390.31,43.24 L390.62,41.82 L390.93,40.47 L391.24,39.19 L391.56,37.98 L391.87,36.84 L392.18,35.77 L392.49,34.79 L392.80,33.87 L393.11,33.04 L393.42,32.27 L393.73,31.59 L394.05,30.97 L394.36,30.43 L394.67,29.96 L394.98,29.56 L395.29,29.23 L395.60,28.96 L395.91,28.76 L396.22,28.63 L396.54,28.56 L396.85,28.55 L397.16,28.62 L397.47,28.76 L397.78,28.97 L398.09,29.27 L398.40,29.64 L398.71,30.08 L399.03,30.61 L399.34,31.22 L399.65,31.92 L399.96,32.70 L400.27,33.57 L400.58,34.52 L400.89,35.56 L401.20,36.69 L401.52,37.91 L401.83,39.21 L402.14,40.59 L402.45,42.05 L402.76,43.58 L403.07,45.18 L403.38,46.83 L403.69,48.54 L404.01,50.29 L404.32,52.07 L404.63,53.87 L404.94,55.68 L405.25,57.48 L405.56,59.27 L405.87,61.02 L406.18,62.73 L406.50,64.38 L406.81,65.96 L407.12,67.45 L407.43,68.84 L407.74,70.12 L408.05,71.27 L408.36,72.29 L408.67,73.16 L408.99,73.88 L409.30,74.43 L409.61,74.83 L409.92,75.05 L410.23,75.10 L410.54,74.99 L410.85,74.71 L411.16,74.26 L411.48,73.66 L411.79,72.91 L412.10,72.01 L412.41,70.97 L412.72,69.81 L413.03,68.53 L413.34,67.14 L413.65,65.66 L413.97,64.09 L414.28,62.46 L414.59,60.78 L414.90,59.05 L415.21,57.29 L415.52,55.52 L415.83,53.74 L416.14,51.98 L416.46,50.23 L416.77,48.51 L417.08,46.84 L417.39,45.21 L417.70,43.64 L418.01,42.14 L418.32,40.70 L418.63,39.34 L418.95,38.05 L419.26,36.85 L419.57,35.73 L419.88,34.69 L420.19,33.74 L420.50,32.87 L420.81,32.08 L421.12,31.38 L421.44,30.76 L421.75,30.22 L422.06,29.76 L422.37,29.37 L422.68,29.06 L422.99,28.83 L423.30,28.66 L423.61,28.57 L423.93,28.55 L424.24,28.59 L424.55,28.70 L424.86,28.87 L425.17,29.11 L425.48,29.42 L425.79,29.79 L426.10,30.24 L426.42,30.75 L426.73,31.33 L427.04,31.99 L427.35,32.72 L427.66,33.53 L427.97,34.41 L428.28,35.37 L428.59,36.40 L428.91,37.51 L429.22,38.70 L429.53,39.95 L429.84,41.27 L430.15,42.66 L430.46,44.11 L430.77,45.62 L431.08,47.17 L431.40,48.77 L431.71,50.40 L432.02,52.06 L432.33,53.73 L432.64,55.41 L432.95,57.10 L433.26,58.76 L433.57,60.41 L433.89,62.02 L434.20,63.58 L434.51,65.09 L434.82,66.53 L435.13,67.88 L435.44,69.15 L435.75,70.32 L436.06,71.37 L436.38,72.31 L436.69,73.12 L437.00,73.80 L437.31,74.35 L437.62,74.75 L437.93,75.00 L438.24,75.10 L438.55,75.05 L438.87,74.85 L439.18,74.48 L439.49,73.96 L439.80,73.29" stroke="#0a6cf5" stroke-width="2.0" stroke-dasharray="3.8 2.9"/>
<path d="M445.00,51.00 L446.46,49.96 L447.92,48.92 L449.38,47.91 L450.84,46.91 L452.30,45.92 L453.77,44.95 L455.23,44.01 L456.69,43.08 L458.15,42.18 L459.61,41.30 L461.07,40.45 L462.53,39.63 L463.99,38.84 L465.45,38.07 L466.91,37.34 L468.37,36.65 L469.83,35.98 L471.30,35.34 L472.76,34.72 L474.22,34.11 L475.68,33.52 L477.14,32.94 L478.60,32.36 L480.06,31.78 L481.52,31.20 L482.98,30.65 L484.44,30.12 L485.90,29.65 L487.37,29.23 L488.83,28.88 L490.29,28.58 L491.75,28.34 L493.21,28.13 L494.67,27.97 L496.13,27.84 L497.59,27.75 L499.05,27.71 L500.51,27.70 L501.97,27.74 L503.43,27.81 L504.90,27.94 L506.36,28.10 L507.82,28.31 L509.28,28.57 L510.74,28.86 L512.20,29.19 L513.66,29.56 L515.12,29.96 L516.58,30.39 L518.04,30.85 L519.50,31.34 L520.97,31.85 L522.43,32.38 L523.89,32.95 L525.35,33.54 L526.81,34.15 L528.27,34.79 L529.73,35.45 L531.19,36.14 L532.65,36.85 L534.11,37.59 L535.57,38.34 L537.03,39.13 L538.50,39.93 L539.96,40.76 L541.42,41.61 L542.88,42.49 L544.34,43.38 L545.80,44.30" stroke="#0a6cf5" stroke-width="1.6" stroke-dasharray="3.8 2.9"/>
</g>
<path d="M315.30,7.80 H439.80 M443.90,7.80 H545.80 M315.30,100.00 H439.80 M443.90,100.00 H545.80 M315.30,7.30 V100.50 M545.80,7.30 V100.50 M315.30,100.00 v-3.6 M315.30,7.80 v3.6 M327.75,100.00 v-2.2 M327.75,7.80 v2.2 M340.20,100.00 v-3.6 M340.20,7.80 v3.6 M352.65,100.00 v-2.2 M352.65,7.80 v2.2 M365.10,100.00 v-3.6 M365.10,7.80 v3.6 M377.55,100.00 v-2.2 M377.55,7.80 v2.2 M390.00,100.00 v-3.6 M390.00,7.80 v3.6 M402.45,100.00 v-2.2 M402.45,7.80 v2.2 M414.90,100.00 v-3.6 M414.90,7.80 v3.6 M427.35,100.00 v-2.2 M427.35,7.80 v2.2 M454.12,100.00 v-3.6 M454.12,7.80 v3.6 M464.34,100.00 v-2.2 M464.34,7.80 v2.2 M474.56,100.00 v-3.6 M474.56,7.80 v3.6 M484.78,100.00 v-2.2 M484.78,7.80 v2.2 M495.00,100.00 v-3.6 M495.00,7.80 v3.6 M505.22,100.00 v-2.2 M505.22,7.80 v2.2 M515.44,100.00 v-3.6 M515.44,7.80 v3.6 M525.66,100.00 v-2.2 M525.66,7.80 v2.2 M535.88,100.00 v-3.6 M535.88,7.80 v3.6 M546.10,100.00 v-2.2 M546.10,7.80 v2.2 M315.30,100.00 h3.6 M545.80,100.00 h-3.6 M315.30,76.95 h2.2 M545.80,76.95 h-2.2 M315.30,53.90 h3.6 M545.80,53.90 h-3.6 M315.30,30.85 h2.2 M545.80,30.85 h-2.2 M315.30,7.80 h3.6 M545.80,7.80 h-3.6" fill="none" stroke="#1c1c1c" stroke-width="1.25"/>
<path d="M438.70,11.40 L442.70,4.20 M442.20,11.40 L446.20,4.20 M438.70,103.60 L442.70,96.40 M442.20,103.60 L446.20,96.40" fill="none" stroke="#1c1c1c" stroke-width="1.3"/>
<g text-anchor="middle">
<text x="315.3" y="112.1">30</text>
<text x="340.2" y="112.1">31</text>
<text x="365.1" y="112.1">32</text>
<text x="390.0" y="112.1">33</text>
<text x="414.9" y="112.1">34</text>
<text x="454.1" y="112.1">39.7</text>
<text x="474.6" y="112.1">39.8</text>
<text x="495.0" y="112.1">39.9</text>
<text x="515.4" y="112.1">40.0</text>
<text x="535.9" y="112.1">40.1</text>
</g>
<g text-anchor="end">
<text x="311.4" y="11.1">1</text>
<text x="311.4" y="57.2">0</text>
<text x="311.4" y="103.3">−1</text>
</g>
<text x="430.7" y="119.2" text-anchor="middle"><tspan font-style="italic">t</tspan> (s)</text>
<text x="320.3" y="20.6">(b) Vertical force on Box A</text>
<text transform="translate(294.3,77.8) rotate(-90)" font-style="italic"><tspan>f</tspan><tspan font-size="6.5" dy="2.7">v</tspan><tspan font-size="6.5" dy="-6.9" dx="0.4" font-style="normal">A</tspan><tspan dy="4.2" font-style="normal">/(</tspan><tspan>ρghA</tspan><tspan font-size="6.5" dy="2.8" font-style="normal">0</tspan><tspan dy="-2.8">W</tspan><tspan font-style="normal">)</tspan></text>
<g fill="none" stroke-width="1.45">
<path d="M337.9,89.6 h23.8" stroke="#585858" stroke-dasharray="8.7 3.3 1.8 4"/>
<path d="M397.9,89.6 h23.7" stroke="#ff2626"/>
<path d="M463.7,89.6 h23.4" stroke="#0a6cf5" stroke-width="1.7" stroke-dasharray="3.9 2.6"/>
</g>
<text x="363.3" y="92.9">Coarse</text>
<text x="423.3" y="92.9">Medium</text>
<text x="489.3" y="92.9">Fine</text>
</g>
<g id="panel-c">
<g fill="none" stroke-linejoin="round">
<path d="M33.70,152.50 L34.01,151.93 L34.32,151.43 L34.63,151.01 L34.94,150.67 L35.26,150.41 L35.57,150.23 L35.88,150.12 L36.19,150.08 L36.50,150.11 L36.81,150.22 L37.12,150.39 L37.43,150.63 L37.75,150.95 L38.06,151.34 L38.37,151.80 L38.68,152.33 L38.99,152.95 L39.30,153.64 L39.61,154.41 L39.92,155.27 L40.24,156.20 L40.55,157.22 L40.86,158.32 L41.17,159.49 L41.48,160.75 L41.79,162.09 L42.10,163.49 L42.41,164.97 L42.73,166.51 L43.04,168.11 L43.35,169.76 L43.66,171.46 L43.97,173.19 L44.28,174.95 L44.59,176.72 L44.90,178.51 L45.22,180.28 L45.53,182.04 L45.84,183.77 L46.15,185.45 L46.46,187.08 L46.77,188.65 L47.08,190.13 L47.39,191.53 L47.71,192.82 L48.02,194.00 L48.33,195.06 L48.64,195.99 L48.95,196.78 L49.26,197.42 L49.57,197.91 L49.88,198.25 L50.20,198.43 L50.51,198.44 L50.82,198.28 L51.13,197.94 L51.44,197.43 L51.75,196.75 L52.06,195.91 L52.37,194.91 L52.69,193.77 L53.00,192.49 L53.31,191.09 L53.62,189.58 L53.93,187.98 L54.24,186.29 L54.55,184.54 L54.86,182.73 L55.18,180.89 L55.49,179.02 L55.80,177.14 L56.11,175.26 L56.42,173.41 L56.73,171.57 L57.04,169.78 L57.35,168.04 L57.67,166.35 L57.98,164.74 L58.29,163.19 L58.60,161.72 L58.91,160.34 L59.22,159.04 L59.53,157.83 L59.84,156.71 L60.16,155.68 L60.47,154.74 L60.78,153.90 L61.09,153.14 L61.40,152.47 L61.71,151.89 L62.02,151.39 L62.33,150.97 L62.65,150.64 L62.96,150.38 L63.27,150.20 L63.58,150.10 L63.89,150.08 L64.20,150.13 L64.51,150.25 L64.82,150.43 L65.14,150.69 L65.45,151.02 L65.76,151.42 L66.07,151.90 L66.38,152.45 L66.69,153.08 L67.00,153.79 L67.31,154.58 L67.63,155.45 L67.94,156.40 L68.25,157.43 L68.56,158.54 L68.87,159.74 L69.18,161.01 L69.49,162.36 L69.80,163.78 L70.12,165.27 L70.43,166.83 L70.74,168.44 L71.05,170.10 L71.36,171.80 L71.67,173.54 L71.98,175.30 L72.29,177.08 L72.61,178.86 L72.92,180.63 L73.23,182.39 L73.54,184.11 L73.85,185.78 L74.16,187.40 L74.47,188.95 L74.78,190.42 L75.10,191.80 L75.41,193.07 L75.72,194.23 L76.03,195.26 L76.34,196.16 L76.65,196.92 L76.96,197.53 L77.27,197.99 L77.59,198.30 L77.90,198.44 L78.21,198.42 L78.52,198.23 L78.83,197.87 L79.14,197.35 L79.45,196.66 L79.76,195.81 L80.08,194.82 L80.39,193.69 L80.70,192.43 L81.01,191.05 L81.32,189.57 L81.63,188.00 L81.94,186.34 L82.25,184.62 L82.57,182.85 L82.88,181.04 L83.19,179.21 L83.50,177.37 L83.81,175.52 L84.12,173.69 L84.43,171.89 L84.74,170.12 L85.06,168.40 L85.37,166.73 L85.68,165.13 L85.99,163.59 L86.30,162.13 L86.61,160.75 L86.92,159.45 L87.23,158.23 L87.55,157.10 L87.86,156.06 L88.17,155.10 L88.48,154.23 L88.79,153.45 L89.10,152.76 L89.41,152.15 L89.72,151.62 L90.04,151.17 L90.35,150.80 L90.66,150.51 L90.97,150.29 L91.28,150.15 L91.59,150.08 L91.90,150.09 L92.21,150.17 L92.53,150.32 L92.84,150.54 L93.15,150.84 L93.46,151.21 L93.77,151.66 L94.08,152.18 L94.39,152.79 L94.70,153.48 L95.02,154.24 L95.33,155.10 L95.64,156.03 L95.95,157.05 L96.26,158.16 L96.57,159.35 L96.88,160.62 L97.19,161.97 L97.51,163.40 L97.82,164.89 L98.13,166.46 L98.44,168.09 L98.75,169.77 L99.06,171.50 L99.37,173.26 L99.68,175.05 L100.00,176.86 L100.31,178.67 L100.62,180.48 L100.93,182.26 L101.24,184.01 L101.55,185.72 L101.86,187.37 L102.17,188.95 L102.49,190.45 L102.80,191.84 L103.11,193.13 L103.42,194.30 L103.73,195.35 L104.04,196.25 L104.35,197.01 L104.66,197.61 L104.98,198.05 L105.29,198.34 L105.60,198.45 L105.91,198.40 L106.22,198.19 L106.53,197.81 L106.84,197.27 L107.15,196.57 L107.47,195.72 L107.78,194.74 L108.09,193.62 L108.40,192.37 L108.71,191.02 L109.02,189.56 L109.33,188.01 L109.64,186.39 L109.96,184.70 L110.27,182.97 L110.58,181.19 L110.89,179.39 L111.20,177.58 L111.51,175.77 L111.82,173.97 L112.13,172.20 L112.45,170.46 L112.76,168.75 L113.07,167.10 L113.38,165.51 L113.69,163.99 L114.00,162.53 L114.31,161.15 L114.62,159.85 L114.94,158.62 L115.25,157.48 L115.56,156.43 L115.87,155.46 L116.18,154.57 L116.49,153.77 L116.80,153.05 L117.11,152.42 L117.43,151.86 L117.74,151.38 L118.05,150.98 L118.36,150.65 L118.67,150.40 L118.98,150.22 L119.29,150.11 L119.60,150.08 L119.92,150.11 L120.23,150.22 L120.54,150.40 L120.85,150.65 L121.16,150.98 L121.47,151.38 L121.78,151.86 L122.09,152.42 L122.41,153.05 L122.72,153.77 L123.03,154.57 L123.34,155.46 L123.65,156.43 L123.96,157.48 L124.27,158.62 L124.58,159.85 L124.90,161.15 L125.21,162.53 L125.52,163.99 L125.83,165.51 L126.14,167.10 L126.45,168.75 L126.76,170.46 L127.07,172.20 L127.39,173.97 L127.70,175.77 L128.01,177.58 L128.32,179.39 L128.63,181.19 L128.94,182.97 L129.25,184.70 L129.56,186.39 L129.88,188.01 L130.19,189.56 L130.50,191.02 L130.81,192.37 L131.12,193.62 L131.43,194.74 L131.74,195.72 L132.05,196.57 L132.37,197.27 L132.68,197.81 L132.99,198.19 L133.30,198.40 L133.61,198.45 L133.92,198.34 L134.23,198.07 L134.54,197.64 L134.86,197.06 L135.17,196.32 L135.48,195.45 L135.79,194.44 L136.10,193.31 L136.41,192.06 L136.72,190.70 L137.03,189.25 L137.35,187.72 L137.66,186.11 L137.97,184.45 L138.28,182.73 L138.59,180.99 L138.90,179.22 L139.21,177.44 L139.52,175.66 L139.84,173.89 L140.15,172.15 L140.46,170.44 L140.77,168.77 L141.08,167.14 L141.39,165.58 L141.70,164.08 L142.01,162.64 L142.33,161.28 L142.64,159.99 L142.95,158.78 L143.26,157.65 L143.57,156.60 L143.88,155.63 L144.19,154.74 L144.50,153.94 L144.82,153.22 L145.13,152.57 L145.44,152.00 L145.75,151.51 L146.06,151.09 L146.37,150.75 L146.68,150.48 L146.99,150.28 L147.31,150.15 L147.62,150.08 L147.93,150.09 L148.24,150.19 L148.55,150.37 L148.86,150.64 L149.17,151.00 L149.48,151.45 L149.80,151.99 L150.11,152.63 L150.42,153.36 L150.73,154.20 L151.04,155.13 L151.35,156.17 L151.66,157.30 L151.97,158.54 L152.29,159.88 L152.60,161.32 L152.91,162.85 L153.22,164.48 L153.53,166.18 L153.84,167.96 L154.15,169.80 L154.46,171.70 L154.78,173.64 L155.09,175.62 L155.40,177.60 L155.71,179.59 L156.02,181.56 L156.33,183.50 L156.64,185.39 L156.95,187.21 L157.27,188.95 L157.58,190.59 L157.89,192.11" stroke="#585858" stroke-width="1.9" stroke-dasharray="8.5 3.5 1.8 4"/>
<path d="M162.90,175.93 L164.37,176.93 L165.84,177.92 L167.32,178.90 L168.79,179.87 L170.26,180.83 L171.73,181.78 L173.21,182.71 L174.68,183.63 L176.15,184.53 L177.62,185.42 L179.10,186.29 L180.57,187.13 L182.04,187.96 L183.51,188.77 L184.99,189.56 L186.46,190.32 L187.93,191.06 L189.40,191.77 L190.88,192.45 L192.35,193.10 L193.82,193.72 L195.29,194.30 L196.77,194.84 L198.24,195.34 L199.71,195.80 L201.18,196.21 L202.66,196.60 L204.13,196.95 L205.60,197.28 L207.07,197.59 L208.55,197.87 L210.02,198.12 L211.49,198.32 L212.96,198.48 L214.44,198.58 L215.91,198.62 L217.38,198.59 L218.85,198.49 L220.33,198.34 L221.80,198.14 L223.27,197.89 L224.74,197.61 L226.22,197.29 L227.69,196.94 L229.16,196.55 L230.63,196.14 L232.11,195.69 L233.58,195.21 L235.05,194.70 L236.52,194.15 L238.00,193.57 L239.47,192.96 L240.94,192.32 L242.41,191.65 L243.89,190.95 L245.36,190.23 L246.83,189.48 L248.30,188.71 L249.78,187.93 L251.25,187.12 L252.72,186.31 L254.19,185.48 L255.67,184.64 L257.14,183.79 L258.61,182.93 L260.08,182.08 L261.56,181.22 L263.03,180.36 L264.50,179.50" stroke="#585858" stroke-width="1.4" stroke-dasharray="8.5 3.5 1.8 4"/>
<path d="M33.70,152.50 L34.01,151.93 L34.32,151.43 L34.63,151.01 L34.94,150.67 L35.26,150.41 L35.57,150.23 L35.88,150.12 L36.19,150.08 L36.50,150.11 L36.81,150.22 L37.12,150.39 L37.43,150.63 L37.75,150.95 L38.06,151.34 L38.37,151.80 L38.68,152.33 L38.99,152.95 L39.30,153.64 L39.61,154.41 L39.92,155.27 L40.24,156.20 L40.55,157.22 L40.86,158.32 L41.17,159.49 L41.48,160.75 L41.79,162.09 L42.10,163.49 L42.41,164.97 L42.73,166.51 L43.04,168.11 L43.35,169.76 L43.66,171.46 L43.97,173.19 L44.28,174.95 L44.59,176.72 L44.90,178.51 L45.22,180.28 L45.53,182.04 L45.84,183.77 L46.15,185.45 L46.46,187.08 L46.77,188.65 L47.08,190.13 L47.39,191.53 L47.71,192.82 L48.02,194.00 L48.33,195.06 L48.64,195.99 L48.95,196.78 L49.26,197.42 L49.57,197.91 L49.88,198.25 L50.20,198.43 L50.51,198.44 L50.82,198.28 L51.13,197.94 L51.44,197.43 L51.75,196.75 L52.06,195.91 L52.37,194.91 L52.69,193.77 L53.00,192.49 L53.31,191.09 L53.62,189.58 L53.93,187.98 L54.24,186.29 L54.55,184.54 L54.86,182.73 L55.18,180.89 L55.49,179.02 L55.80,177.14 L56.11,175.26 L56.42,173.41 L56.73,171.57 L57.04,169.78 L57.35,168.04 L57.67,166.35 L57.98,164.74 L58.29,163.19 L58.60,161.72 L58.91,160.34 L59.22,159.04 L59.53,157.83 L59.84,156.71 L60.16,155.68 L60.47,154.74 L60.78,153.90 L61.09,153.14 L61.40,152.47 L61.71,151.89 L62.02,151.39 L62.33,150.97 L62.65,150.64 L62.96,150.38 L63.27,150.20 L63.58,150.10 L63.89,150.08 L64.20,150.13 L64.51,150.25 L64.82,150.43 L65.14,150.69 L65.45,151.02 L65.76,151.42 L66.07,151.90 L66.38,152.45 L66.69,153.08 L67.00,153.79 L67.31,154.58 L67.63,155.45 L67.94,156.40 L68.25,157.43 L68.56,158.54 L68.87,159.74 L69.18,161.01 L69.49,162.36 L69.80,163.78 L70.12,165.27 L70.43,166.83 L70.74,168.44 L71.05,170.10 L71.36,171.80 L71.67,173.54 L71.98,175.30 L72.29,177.08 L72.61,178.86 L72.92,180.63 L73.23,182.39 L73.54,184.11 L73.85,185.78 L74.16,187.40 L74.47,188.95 L74.78,190.42 L75.10,191.80 L75.41,193.07 L75.72,194.23 L76.03,195.26 L76.34,196.16 L76.65,196.92 L76.96,197.53 L77.27,197.99 L77.59,198.30 L77.90,198.44 L78.21,198.42 L78.52,198.23 L78.83,197.87 L79.14,197.35 L79.45,196.66 L79.76,195.81 L80.08,194.82 L80.39,193.69 L80.70,192.43 L81.01,191.05 L81.32,189.57 L81.63,188.00 L81.94,186.34 L82.25,184.62 L82.57,182.85 L82.88,181.04 L83.19,179.21 L83.50,177.37 L83.81,175.52 L84.12,173.69 L84.43,171.89 L84.74,170.12 L85.06,168.40 L85.37,166.73 L85.68,165.13 L85.99,163.59 L86.30,162.13 L86.61,160.75 L86.92,159.45 L87.23,158.23 L87.55,157.10 L87.86,156.06 L88.17,155.10 L88.48,154.23 L88.79,153.45 L89.10,152.76 L89.41,152.15 L89.72,151.62 L90.04,151.17 L90.35,150.80 L90.66,150.51 L90.97,150.29 L91.28,150.15 L91.59,150.08 L91.90,150.09 L92.21,150.17 L92.53,150.32 L92.84,150.54 L93.15,150.84 L93.46,151.21 L93.77,151.66 L94.08,152.18 L94.39,152.79 L94.70,153.48 L95.02,154.24 L95.33,155.10 L95.64,156.03 L95.95,157.05 L96.26,158.16 L96.57,159.35 L96.88,160.62 L97.19,161.97 L97.51,163.40 L97.82,164.89 L98.13,166.46 L98.44,168.09 L98.75,169.77 L99.06,171.50 L99.37,173.26 L99.68,175.05 L100.00,176.86 L100.31,178.67 L100.62,180.48 L100.93,182.26 L101.24,184.01 L101.55,185.72 L101.86,187.37 L102.17,188.95 L102.49,190.45 L102.80,191.84 L103.11,193.13 L103.42,194.30 L103.73,195.35 L104.04,196.25 L104.35,197.01 L104.66,197.61 L104.98,198.05 L105.29,198.34 L105.60,198.45 L105.91,198.40 L106.22,198.19 L106.53,197.81 L106.84,197.27 L107.15,196.57 L107.47,195.72 L107.78,194.74 L108.09,193.62 L108.40,192.37 L108.71,191.02 L109.02,189.56 L109.33,188.01 L109.64,186.39 L109.96,184.70 L110.27,182.97 L110.58,181.19 L110.89,179.39 L111.20,177.58 L111.51,175.77 L111.82,173.97 L112.13,172.20 L112.45,170.46 L112.76,168.75 L113.07,167.10 L113.38,165.51 L113.69,163.99 L114.00,162.53 L114.31,161.15 L114.62,159.85 L114.94,158.62 L115.25,157.48 L115.56,156.43 L115.87,155.46 L116.18,154.57 L116.49,153.77 L116.80,153.05 L117.11,152.42 L117.43,151.86 L117.74,151.38 L118.05,150.98 L118.36,150.65 L118.67,150.40 L118.98,150.22 L119.29,150.11 L119.60,150.08 L119.92,150.11 L120.23,150.22 L120.54,150.40 L120.85,150.65 L121.16,150.98 L121.47,151.38 L121.78,151.86 L122.09,152.42 L122.41,153.05 L122.72,153.77 L123.03,154.57 L123.34,155.46 L123.65,156.43 L123.96,157.48 L124.27,158.62 L124.58,159.85 L124.90,161.15 L125.21,162.53 L125.52,163.99 L125.83,165.51 L126.14,167.10 L126.45,168.75 L126.76,170.46 L127.07,172.20 L127.39,173.97 L127.70,175.77 L128.01,177.58 L128.32,179.39 L128.63,181.19 L128.94,182.97 L129.25,184.70 L129.56,186.39 L129.88,188.01 L130.19,189.56 L130.50,191.02 L130.81,192.37 L131.12,193.62 L131.43,194.74 L131.74,195.72 L132.05,196.57 L132.37,197.27 L132.68,197.81 L132.99,198.19 L133.30,198.40 L133.61,198.45 L133.92,198.34 L134.23,198.07 L134.54,197.64 L134.86,197.06 L135.17,196.32 L135.48,195.45 L135.79,194.44 L136.10,193.31 L136.41,192.06 L136.72,190.70 L137.03,189.25 L137.35,187.72 L137.66,186.11 L137.97,184.45 L138.28,182.73 L138.59,180.99 L138.90,179.22 L139.21,177.44 L139.52,175.66 L139.84,173.89 L140.15,172.15 L140.46,170.44 L140.77,168.77 L141.08,167.14 L141.39,165.58 L141.70,164.08 L142.01,162.64 L142.33,161.28 L142.64,159.99 L142.95,158.78 L143.26,157.65 L143.57,156.60 L143.88,155.63 L144.19,154.74 L144.50,153.94 L144.82,153.22 L145.13,152.57 L145.44,152.00 L145.75,151.51 L146.06,151.09 L146.37,150.75 L146.68,150.48 L146.99,150.28 L147.31,150.15 L147.62,150.08 L147.93,150.09 L148.24,150.19 L148.55,150.37 L148.86,150.64 L149.17,151.00 L149.48,151.45 L149.80,151.99 L150.11,152.63 L150.42,153.36 L150.73,154.20 L151.04,155.13 L151.35,156.17 L151.66,157.30 L151.97,158.54 L152.29,159.88 L152.60,161.32 L152.91,162.85 L153.22,164.48 L153.53,166.18 L153.84,167.96 L154.15,169.80 L154.46,171.70 L154.78,173.64 L155.09,175.62 L155.40,177.60 L155.71,179.59 L156.02,181.56 L156.33,183.50 L156.64,185.39 L156.95,187.21 L157.27,188.95 L157.58,190.59 L157.89,192.11" stroke="#ff2626" stroke-width="1.9"/>
<path d="M162.90,175.97 L164.37,176.99 L165.84,178.00 L167.32,179.01 L168.79,180.00 L170.26,180.98 L171.73,181.94 L173.21,182.90 L174.68,183.83 L176.15,184.75 L177.62,185.66 L179.10,186.54 L180.57,187.41 L182.04,188.25 L183.51,189.08 L184.99,189.88 L186.46,190.66 L187.93,191.41 L189.40,192.14 L190.88,192.83 L192.35,193.50 L193.82,194.13 L195.29,194.72 L196.77,195.27 L198.24,195.78 L199.71,196.25 L201.18,196.68 L202.66,197.07 L204.13,197.43 L205.60,197.76 L207.07,198.07 L208.55,198.36 L210.02,198.62 L211.49,198.83 L212.96,198.99 L214.44,199.10 L215.91,199.13 L217.38,199.10 L218.85,199.00 L220.33,198.85 L221.80,198.64 L223.27,198.39 L224.74,198.10 L226.22,197.77 L227.69,197.41 L229.16,197.02 L230.63,196.60 L232.11,196.14 L233.58,195.65 L235.05,195.13 L236.52,194.57 L238.00,193.98 L239.47,193.36 L240.94,192.70 L242.41,192.02 L243.89,191.30 L245.36,190.56 L246.83,189.80 L248.30,189.02 L249.78,188.22 L251.25,187.40 L252.72,186.56 L254.19,185.72 L255.67,184.86 L257.14,183.99 L258.61,183.12 L260.08,182.25 L261.56,181.37 L263.03,180.49 L264.50,179.61" stroke="#ff2626" stroke-width="1.4"/>
<path d="M33.70,152.50 L34.01,151.93 L34.32,151.43 L34.63,151.01 L34.94,150.67 L35.26,150.41 L35.57,150.23 L35.88,150.12 L36.19,150.08 L36.50,150.11 L36.81,150.22 L37.12,150.39 L37.43,150.63 L37.75,150.95 L38.06,151.34 L38.37,151.80 L38.68,152.33 L38.99,152.95 L39.30,153.64 L39.61,154.41 L39.92,155.27 L40.24,156.20 L40.55,157.22 L40.86,158.32 L41.17,159.49 L41.48,160.75 L41.79,162.09 L42.10,163.49 L42.41,164.97 L42.73,166.51 L43.04,168.11 L43.35,169.76 L43.66,171.46 L43.97,173.19 L44.28,174.95 L44.59,176.72 L44.90,178.51 L45.22,180.28 L45.53,182.04 L45.84,183.77 L46.15,185.45 L46.46,187.08 L46.77,188.65 L47.08,190.13 L47.39,191.53 L47.71,192.82 L48.02,194.00 L48.33,195.06 L48.64,195.99 L48.95,196.78 L49.26,197.42 L49.57,197.91 L49.88,198.25 L50.20,198.43 L50.51,198.44 L50.82,198.28 L51.13,197.94 L51.44,197.43 L51.75,196.75 L52.06,195.91 L52.37,194.91 L52.69,193.77 L53.00,192.49 L53.31,191.09 L53.62,189.58 L53.93,187.98 L54.24,186.29 L54.55,184.54 L54.86,182.73 L55.18,180.89 L55.49,179.02 L55.80,177.14 L56.11,175.26 L56.42,173.41 L56.73,171.57 L57.04,169.78 L57.35,168.04 L57.67,166.35 L57.98,164.74 L58.29,163.19 L58.60,161.72 L58.91,160.34 L59.22,159.04 L59.53,157.83 L59.84,156.71 L60.16,155.68 L60.47,154.74 L60.78,153.90 L61.09,153.14 L61.40,152.47 L61.71,151.89 L62.02,151.39 L62.33,150.97 L62.65,150.64 L62.96,150.38 L63.27,150.20 L63.58,150.10 L63.89,150.08 L64.20,150.13 L64.51,150.25 L64.82,150.43 L65.14,150.69 L65.45,151.02 L65.76,151.42 L66.07,151.90 L66.38,152.45 L66.69,153.08 L67.00,153.79 L67.31,154.58 L67.63,155.45 L67.94,156.40 L68.25,157.43 L68.56,158.54 L68.87,159.74 L69.18,161.01 L69.49,162.36 L69.80,163.78 L70.12,165.27 L70.43,166.83 L70.74,168.44 L71.05,170.10 L71.36,171.80 L71.67,173.54 L71.98,175.30 L72.29,177.08 L72.61,178.86 L72.92,180.63 L73.23,182.39 L73.54,184.11 L73.85,185.78 L74.16,187.40 L74.47,188.95 L74.78,190.42 L75.10,191.80 L75.41,193.07 L75.72,194.23 L76.03,195.26 L76.34,196.16 L76.65,196.92 L76.96,197.53 L77.27,197.99 L77.59,198.30 L77.90,198.44 L78.21,198.42 L78.52,198.23 L78.83,197.87 L79.14,197.35 L79.45,196.66 L79.76,195.81 L80.08,194.82 L80.39,193.69 L80.70,192.43 L81.01,191.05 L81.32,189.57 L81.63,188.00 L81.94,186.34 L82.25,184.62 L82.57,182.85 L82.88,181.04 L83.19,179.21 L83.50,177.37 L83.81,175.52 L84.12,173.69 L84.43,171.89 L84.74,170.12 L85.06,168.40 L85.37,166.73 L85.68,165.13 L85.99,163.59 L86.30,162.13 L86.61,160.75 L86.92,159.45 L87.23,158.23 L87.55,157.10 L87.86,156.06 L88.17,155.10 L88.48,154.23 L88.79,153.45 L89.10,152.76 L89.41,152.15 L89.72,151.62 L90.04,151.17 L90.35,150.80 L90.66,150.51 L90.97,150.29 L91.28,150.15 L91.59,150.08 L91.90,150.09 L92.21,150.17 L92.53,150.32 L92.84,150.54 L93.15,150.84 L93.46,151.21 L93.77,151.66 L94.08,152.18 L94.39,152.79 L94.70,153.48 L95.02,154.24 L95.33,155.10 L95.64,156.03 L95.95,157.05 L96.26,158.16 L96.57,159.35 L96.88,160.62 L97.19,161.97 L97.51,163.40 L97.82,164.89 L98.13,166.46 L98.44,168.09 L98.75,169.77 L99.06,171.50 L99.37,173.26 L99.68,175.05 L100.00,176.86 L100.31,178.67 L100.62,180.48 L100.93,182.26 L101.24,184.01 L101.55,185.72 L101.86,187.37 L102.17,188.95 L102.49,190.45 L102.80,191.84 L103.11,193.13 L103.42,194.30 L103.73,195.35 L104.04,196.25 L104.35,197.01 L104.66,197.61 L104.98,198.05 L105.29,198.34 L105.60,198.45 L105.91,198.40 L106.22,198.19 L106.53,197.81 L106.84,197.27 L107.15,196.57 L107.47,195.72 L107.78,194.74 L108.09,193.62 L108.40,192.37 L108.71,191.02 L109.02,189.56 L109.33,188.01 L109.64,186.39 L109.96,184.70 L110.27,182.97 L110.58,181.19 L110.89,179.39 L111.20,177.58 L111.51,175.77 L111.82,173.97 L112.13,172.20 L112.45,170.46 L112.76,168.75 L113.07,167.10 L113.38,165.51 L113.69,163.99 L114.00,162.53 L114.31,161.15 L114.62,159.85 L114.94,158.62 L115.25,157.48 L115.56,156.43 L115.87,155.46 L116.18,154.57 L116.49,153.77 L116.80,153.05 L117.11,152.42 L117.43,151.86 L117.74,151.38 L118.05,150.98 L118.36,150.65 L118.67,150.40 L118.98,150.22 L119.29,150.11 L119.60,150.08 L119.92,150.11 L120.23,150.22 L120.54,150.40 L120.85,150.65 L121.16,150.98 L121.47,151.38 L121.78,151.86 L122.09,152.42 L122.41,153.05 L122.72,153.77 L123.03,154.57 L123.34,155.46 L123.65,156.43 L123.96,157.48 L124.27,158.62 L124.58,159.85 L124.90,161.15 L125.21,162.53 L125.52,163.99 L125.83,165.51 L126.14,167.10 L126.45,168.75 L126.76,170.46 L127.07,172.20 L127.39,173.97 L127.70,175.77 L128.01,177.58 L128.32,179.39 L128.63,181.19 L128.94,182.97 L129.25,184.70 L129.56,186.39 L129.88,188.01 L130.19,189.56 L130.50,191.02 L130.81,192.37 L131.12,193.62 L131.43,194.74 L131.74,195.72 L132.05,196.57 L132.37,197.27 L132.68,197.81 L132.99,198.19 L133.30,198.40 L133.61,198.45 L133.92,198.34 L134.23,198.07 L134.54,197.64 L134.86,197.06 L135.17,196.32 L135.48,195.45 L135.79,194.44 L136.10,193.31 L136.41,192.06 L136.72,190.70 L137.03,189.25 L137.35,187.72 L137.66,186.11 L137.97,184.45 L138.28,182.73 L138.59,180.99 L138.90,179.22 L139.21,177.44 L139.52,175.66 L139.84,173.89 L140.15,172.15 L140.46,170.44 L140.77,168.77 L141.08,167.14 L141.39,165.58 L141.70,164.08 L142.01,162.64 L142.33,161.28 L142.64,159.99 L142.95,158.78 L143.26,157.65 L143.57,156.60 L143.88,155.63 L144.19,154.74 L144.50,153.94 L144.82,153.22 L145.13,152.57 L145.44,152.00 L145.75,151.51 L146.06,151.09 L146.37,150.75 L146.68,150.48 L146.99,150.28 L147.31,150.15 L147.62,150.08 L147.93,150.09 L148.24,150.19 L148.55,150.37 L148.86,150.64 L149.17,151.00 L149.48,151.45 L149.80,151.99 L150.11,152.63 L150.42,153.36 L150.73,154.20 L151.04,155.13 L151.35,156.17 L151.66,157.30 L151.97,158.54 L152.29,159.88 L152.60,161.32 L152.91,162.85 L153.22,164.48 L153.53,166.18 L153.84,167.96 L154.15,169.80 L154.46,171.70 L154.78,173.64 L155.09,175.62 L155.40,177.60 L155.71,179.59 L156.02,181.56 L156.33,183.50 L156.64,185.39 L156.95,187.21 L157.27,188.95 L157.58,190.59 L157.89,192.11" stroke="#0a6cf5" stroke-width="2.0" stroke-dasharray="3.8 2.9"/>
<path d="M162.90,176.00 L164.37,177.04 L165.84,178.07 L167.32,179.08 L168.79,180.09 L170.26,181.08 L171.73,182.06 L173.21,183.03 L174.68,183.98 L176.15,184.92 L177.62,185.83 L179.10,186.73 L180.57,187.61 L182.04,188.47 L183.51,189.31 L184.99,190.12 L186.46,190.91 L187.93,191.68 L189.40,192.41 L190.88,193.12 L192.35,193.80 L193.82,194.43 L195.29,195.03 L196.77,195.60 L198.24,196.11 L199.71,196.59 L201.18,197.02 L202.66,197.42 L204.13,197.79 L205.60,198.13 L207.07,198.44 L208.55,198.73 L210.02,198.99 L211.49,199.21 L212.96,199.37 L214.44,199.48 L215.91,199.51 L217.38,199.48 L218.85,199.38 L220.33,199.23 L221.80,199.02 L223.27,198.76 L224.74,198.47 L226.22,198.13 L227.69,197.77 L229.16,197.37 L230.63,196.94 L232.11,196.48 L233.58,195.98 L235.05,195.45 L236.52,194.88 L238.00,194.29 L239.47,193.65 L240.94,192.99 L242.41,192.29 L243.89,191.57 L245.36,190.82 L246.83,190.04 L248.30,189.25 L249.78,188.43 L251.25,187.60 L252.72,186.76 L254.19,185.90 L255.67,185.02 L257.14,184.15 L258.61,183.26 L260.08,182.37 L261.56,181.48 L263.03,180.59 L264.50,179.70" stroke="#0a6cf5" stroke-width="1.6" stroke-dasharray="3.8 2.9"/>
</g>
<path d="M33.70,128.00 H158.20 M162.30,128.00 H264.50 M33.70,220.00 H158.20 M162.30,220.00 H264.50 M33.70,127.50 V220.50 M264.50,127.50 V220.50 M33.70,220.00 v-3.6 M33.70,128.00 v3.6 M46.15,220.00 v-2.2 M46.15,128.00 v2.2 M58.60,220.00 v-3.6 M58.60,128.00 v3.6 M71.05,220.00 v-2.2 M71.05,128.00 v2.2 M83.50,220.00 v-3.6 M83.50,128.00 v3.6 M95.95,220.00 v-2.2 M95.95,128.00 v2.2 M108.40,220.00 v-3.6 M108.40,128.00 v3.6 M120.85,220.00 v-2.2 M120.85,128.00 v2.2 M133.30,220.00 v-3.6 M133.30,128.00 v3.6 M145.75,220.00 v-2.2 M145.75,128.00 v2.2 M172.52,220.00 v-2.2 M172.52,128.00 v2.2 M182.74,220.00 v-3.6 M182.74,128.00 v3.6 M192.96,220.00 v-2.2 M192.96,128.00 v2.2 M203.18,220.00 v-3.6 M203.18,128.00 v3.6 M213.40,220.00 v-2.2 M213.40,128.00 v2.2 M223.62,220.00 v-3.6 M223.62,128.00 v3.6 M233.84,220.00 v-2.2 M233.84,128.00 v2.2 M244.06,220.00 v-3.6 M244.06,128.00 v3.6 M254.28,220.00 v-2.2 M254.28,128.00 v2.2 M264.50,220.00 v-3.6 M264.50,128.00 v3.6 M33.70,216.20 h3.6 M264.50,216.20 h-3.6 M33.70,205.64 h2.2 M264.50,205.64 h-2.2 M33.70,195.07 h3.6 M264.50,195.07 h-3.6 M33.70,184.51 h2.2 M264.50,184.51 h-2.2 M33.70,173.95 h3.6 M264.50,173.95 h-3.6 M33.70,163.39 h2.2 M264.50,163.39 h-2.2 M33.70,152.82 h3.6 M264.50,152.82 h-3.6 M33.70,142.26 h2.2 M264.50,142.26 h-2.2 M33.70,131.70 h3.6 M264.50,131.70 h-3.6" fill="none" stroke="#1c1c1c" stroke-width="1.25"/>
<path d="M157.10,131.60 L161.10,124.40 M160.60,131.60 L164.60,124.40 M157.10,223.60 L161.10,216.40 M160.60,223.60 L164.60,216.40" fill="none" stroke="#1c1c1c" stroke-width="1.3"/>
<g text-anchor="middle">
<text x="33.7" y="232.1">30</text>
<text x="58.6" y="232.1">31</text>
<text x="83.5" y="232.1">32</text>
<text x="108.4" y="232.1">33</text>
<text x="133.3" y="232.1">34</text>
<text x="182.7" y="232.1">39.4</text>
<text x="203.2" y="232.1">39.5</text>
<text x="223.6" y="232.1">39.6</text>
<text x="244.1" y="232.1">39.7</text>
<text x="264.5" y="232.1">39.8</text>
</g>
<g text-anchor="end">
<text x="29.8" y="135.0">2</text>
<text x="29.8" y="156.1">1</text>
<text x="29.8" y="177.2">0</text>
<text x="29.8" y="198.4">−1</text>
<text x="29.8" y="219.5">−2</text>
</g>
<text x="149.1" y="239.2" text-anchor="middle"><tspan font-style="italic">t</tspan> (s)</text>
<text x="38.7" y="140.8">(c) Horizontal force on Box B</text>
<text transform="translate(12.1,198.0) rotate(-90)" font-style="italic"><tspan>f</tspan><tspan font-size="6.5" dy="2.7">h</tspan><tspan font-size="6.5" dy="-6.9" dx="0.4" font-style="normal">B</tspan><tspan dy="4.2" font-style="normal">/(</tspan><tspan>ρghA</tspan><tspan font-size="6.5" dy="2.8" font-style="normal">0</tspan><tspan dy="-2.8">W</tspan><tspan font-style="normal">)</tspan></text>
</g>
<g id="panel-d">
<g fill="none" stroke-linejoin="round">
<path d="M315.30,156.98 L315.61,157.01 L315.92,157.10 L316.23,157.25 L316.54,157.46 L316.86,157.73 L317.17,158.06 L317.48,158.45 L317.79,158.90 L318.10,159.41 L318.41,159.98 L318.72,160.61 L319.03,161.30 L319.35,162.04 L319.66,162.85 L319.97,163.71 L320.28,164.62 L320.59,165.58 L320.90,166.60 L321.21,167.65 L321.52,168.75 L321.84,169.89 L322.15,171.06 L322.46,172.25 L322.77,173.47 L323.08,174.71 L323.39,175.95 L323.70,177.20 L324.01,178.44 L324.33,179.67 L324.64,180.89 L324.95,182.07 L325.26,183.22 L325.57,184.33 L325.88,185.39 L326.19,186.39 L326.50,187.33 L326.82,188.20 L327.13,188.99 L327.44,189.69 L327.75,190.31 L328.06,190.83 L328.37,191.26 L328.68,191.58 L328.99,191.80 L329.31,191.92 L329.62,191.93 L329.93,191.83 L330.24,191.61 L330.55,191.29 L330.86,190.86 L331.17,190.32 L331.48,189.69 L331.80,188.95 L332.11,188.13 L332.42,187.23 L332.73,186.26 L333.04,185.21 L333.35,184.11 L333.66,182.96 L333.97,181.76 L334.29,180.53 L334.60,179.27 L334.91,178.00 L335.22,176.72 L335.53,175.43 L335.84,174.15 L336.15,172.89 L336.46,171.65 L336.78,170.44 L337.09,169.25 L337.40,168.11 L337.71,167.01 L338.02,165.96 L338.33,164.96 L338.64,164.01 L338.95,163.12 L339.27,162.28 L339.58,161.51 L339.89,160.80 L340.20,160.16 L340.51,159.58 L340.82,159.06 L341.13,158.60 L341.44,158.21 L341.76,157.89 L342.07,157.62 L342.38,157.43 L342.69,157.29 L343.00,157.22 L343.31,157.21 L343.62,157.27 L343.93,157.38 L344.25,157.54 L344.56,157.77 L344.87,158.05 L345.18,158.39 L345.49,158.78 L345.80,159.24 L346.11,159.75 L346.42,160.32 L346.74,160.95 L347.05,161.63 L347.36,162.37 L347.67,163.16 L347.98,164.01 L348.29,164.91 L348.60,165.85 L348.91,166.85 L349.23,167.88 L349.54,168.96 L349.85,170.07 L350.16,171.21 L350.47,172.38 L350.78,173.57 L351.09,174.77 L351.40,175.99 L351.72,177.21 L352.03,178.42 L352.34,179.63 L352.65,180.81 L352.96,181.97 L353.27,183.10 L353.58,184.19 L353.89,185.24 L354.21,186.23 L354.52,187.16 L354.83,188.02 L355.14,188.81 L355.45,189.52 L355.76,190.15 L356.07,190.69 L356.38,191.13 L356.70,191.48 L357.01,191.74 L357.32,191.89 L357.63,191.94 L357.94,191.88 L358.25,191.71 L358.56,191.41 L358.87,191.01 L359.19,190.50 L359.50,189.88 L359.81,189.16 L360.12,188.35 L360.43,187.45 L360.74,186.47 L361.05,185.42 L361.36,184.31 L361.68,183.14 L361.99,181.93 L362.30,180.68 L362.61,179.40 L362.92,178.11 L363.23,176.80 L363.54,175.49 L363.85,174.19 L364.17,172.91 L364.48,171.64 L364.79,170.40 L365.10,169.20 L365.41,168.04 L365.72,166.92 L366.03,165.85 L366.34,164.84 L366.66,163.88 L366.97,162.98 L367.28,162.15 L367.59,161.37 L367.90,160.66 L368.21,160.02 L368.52,159.44 L368.83,158.93 L369.15,158.48 L369.46,158.11 L369.77,157.79 L370.08,157.55 L370.39,157.37 L370.70,157.26 L371.01,157.21 L371.32,157.23 L371.64,157.31 L371.95,157.44 L372.26,157.64 L372.57,157.89 L372.88,158.21 L373.19,158.59 L373.50,159.02 L373.81,159.52 L374.13,160.07 L374.44,160.68 L374.75,161.36 L375.06,162.09 L375.37,162.87 L375.68,163.72 L375.99,164.61 L376.30,165.56 L376.62,166.56 L376.93,167.60 L377.24,168.68 L377.55,169.80 L377.86,170.96 L378.17,172.14 L378.48,173.35 L378.79,174.57 L379.11,175.81 L379.42,177.05 L379.73,178.29 L380.04,179.51 L380.35,180.72 L380.66,181.90 L380.97,183.06 L381.28,184.17 L381.60,185.23 L381.91,186.24 L382.22,187.18 L382.53,188.06 L382.84,188.86 L383.15,189.57 L383.46,190.20 L383.77,190.74 L384.09,191.19 L384.40,191.53 L384.71,191.77 L385.02,191.91 L385.33,191.94 L385.64,191.86 L385.95,191.67 L386.26,191.36 L386.58,190.95 L386.89,190.44 L387.20,189.82 L387.51,189.11 L387.82,188.31 L388.13,187.42 L388.44,186.46 L388.75,185.43 L389.07,184.34 L389.38,183.19 L389.69,182.00 L390.00,180.78 L390.31,179.52 L390.62,178.25 L390.93,176.97 L391.24,175.69 L391.56,174.41 L391.87,173.14 L392.18,171.90 L392.49,170.68 L392.80,169.49 L393.11,168.34 L393.42,167.23 L393.73,166.16 L394.05,165.15 L394.36,164.19 L394.67,163.29 L394.98,162.45 L395.29,161.66 L395.60,160.94 L395.91,160.28 L396.22,159.69 L396.54,159.15 L396.85,158.69 L397.16,158.28 L397.47,157.95 L397.78,157.67 L398.09,157.46 L398.40,157.31 L398.71,157.23 L399.03,157.21 L399.34,157.25 L399.65,157.35 L399.96,157.51 L400.27,157.73 L400.58,158.01 L400.89,158.35 L401.20,158.75 L401.52,159.21 L401.83,159.73 L402.14,160.31 L402.45,160.95 L402.76,161.64 L403.07,162.40 L403.38,163.20 L403.69,164.07 L404.01,164.99 L404.32,165.95 L404.63,166.97 L404.94,168.03 L405.25,169.13 L405.56,170.26 L405.87,171.43 L406.18,172.62 L406.50,173.84 L406.81,175.07 L407.12,176.31 L407.43,177.54 L407.74,178.78 L408.05,180.00 L408.36,181.20 L408.67,182.37 L408.99,183.50 L409.30,184.60 L409.61,185.64 L409.92,186.62 L410.23,187.54 L410.54,188.39 L410.85,189.15 L411.16,189.84 L411.48,190.43 L411.79,190.93 L412.10,191.33 L412.41,191.64 L412.72,191.84 L413.03,191.93 L413.34,191.92 L413.65,191.79 L413.97,191.54 L414.28,191.19 L414.59,190.72 L414.90,190.14 L415.21,189.46 L415.52,188.68 L415.83,187.82 L416.14,186.87 L416.46,185.85 L416.77,184.76 L417.08,183.62 L417.39,182.42 L417.70,181.18 L418.01,179.92 L418.32,178.63 L418.63,177.32 L418.95,176.02 L419.26,174.71 L419.57,173.42 L419.88,172.14 L420.19,170.90 L420.50,169.68 L420.81,168.50 L421.12,167.36 L421.44,166.28 L421.75,165.24 L422.06,164.26 L422.37,163.34 L422.68,162.47 L422.99,161.67 L423.30,160.94 L423.61,160.27 L423.93,159.66 L424.24,159.13 L424.55,158.65 L424.86,158.25 L425.17,157.91 L425.48,157.64 L425.79,157.43 L426.10,157.29 L426.42,157.22 L426.73,157.21 L427.04,157.27 L427.35,157.39 L427.66,157.57 L427.97,157.81 L428.28,158.11 L428.59,158.47 L428.91,158.90 L429.22,159.39 L429.53,159.94 L429.84,160.55 L430.15,161.22 L430.46,161.95 L430.77,162.74 L431.08,163.59 L431.40,164.50 L431.71,165.46 L432.02,166.47 L432.33,167.52 L432.64,168.62 L432.95,169.76 L433.26,170.94 L433.57,172.14 L433.89,173.37 L434.20,174.62 L434.51,175.88 L434.82,177.14 L435.13,178.40 L435.44,179.64 L435.75,180.87 L436.06,182.07 L436.38,183.24 L436.69,184.36 L437.00,185.43 L437.31,186.44 L437.62,187.39 L437.93,188.26 L438.24,189.06 L438.55,189.76 L438.87,190.38 L439.18,190.90" stroke="#585858" stroke-width="1.9" stroke-dasharray="8.5 3.5 1.8 4"/>
<path d="M444.40,173.14 L445.87,172.30 L447.34,171.50 L448.81,170.74 L450.28,170.01 L451.75,169.31 L453.22,168.64 L454.69,167.99 L456.16,167.38 L457.63,166.78 L459.10,166.21 L460.57,165.65 L462.03,165.11 L463.50,164.59 L464.97,164.08 L466.44,163.59 L467.91,163.10 L469.38,162.62 L470.85,162.14 L472.32,161.67 L473.79,161.21 L475.26,160.76 L476.73,160.33 L478.20,159.91 L479.67,159.52 L481.14,159.15 L482.61,158.81 L484.08,158.51 L485.55,158.23 L487.02,157.99 L488.49,157.77 L489.96,157.58 L491.43,157.41 L492.90,157.26 L494.37,157.14 L495.83,157.04 L497.30,156.96 L498.77,156.92 L500.24,156.91 L501.71,156.94 L503.18,157.00 L504.65,157.11 L506.12,157.24 L507.59,157.40 L509.06,157.60 L510.53,157.82 L512.00,158.06 L513.47,158.33 L514.94,158.62 L516.41,158.93 L517.88,159.26 L519.35,159.60 L520.82,159.95 L522.29,160.32 L523.76,160.70 L525.23,161.10 L526.70,161.50 L528.17,161.91 L529.63,162.33 L531.10,162.76 L532.57,163.20 L534.04,163.66 L535.51,164.14 L536.98,164.63 L538.45,165.15 L539.92,165.69 L541.39,166.26 L542.86,166.85 L544.33,167.48 L545.80,168.14" stroke="#585858" stroke-width="1.4" stroke-dasharray="8.5 3.5 1.8 4"/>
<path d="M315.30,156.98 L315.61,157.01 L315.92,157.10 L316.23,157.25 L316.54,157.46 L316.86,157.73 L317.17,158.06 L317.48,158.45 L317.79,158.90 L318.10,159.41 L318.41,159.98 L318.72,160.61 L319.03,161.30 L319.35,162.04 L319.66,162.85 L319.97,163.71 L320.28,164.62 L320.59,165.58 L320.90,166.60 L321.21,167.65 L321.52,168.75 L321.84,169.89 L322.15,171.06 L322.46,172.25 L322.77,173.47 L323.08,174.71 L323.39,175.95 L323.70,177.20 L324.01,178.44 L324.33,179.67 L324.64,180.89 L324.95,182.07 L325.26,183.22 L325.57,184.33 L325.88,185.39 L326.19,186.39 L326.50,187.33 L326.82,188.20 L327.13,188.99 L327.44,189.69 L327.75,190.31 L328.06,190.83 L328.37,191.26 L328.68,191.58 L328.99,191.80 L329.31,191.92 L329.62,191.93 L329.93,191.83 L330.24,191.61 L330.55,191.29 L330.86,190.86 L331.17,190.32 L331.48,189.69 L331.80,188.95 L332.11,188.13 L332.42,187.23 L332.73,186.26 L333.04,185.21 L333.35,184.11 L333.66,182.96 L333.97,181.76 L334.29,180.53 L334.60,179.27 L334.91,178.00 L335.22,176.72 L335.53,175.43 L335.84,174.15 L336.15,172.89 L336.46,171.65 L336.78,170.44 L337.09,169.25 L337.40,168.11 L337.71,167.01 L338.02,165.96 L338.33,164.96 L338.64,164.01 L338.95,163.12 L339.27,162.28 L339.58,161.51 L339.89,160.80 L340.20,160.16 L340.51,159.58 L340.82,159.06 L341.13,158.60 L341.44,158.21 L341.76,157.89 L342.07,157.62 L342.38,157.43 L342.69,157.29 L343.00,157.22 L343.31,157.21 L343.62,157.27 L343.93,157.38 L344.25,157.54 L344.56,157.77 L344.87,158.05 L345.18,158.39 L345.49,158.78 L345.80,159.24 L346.11,159.75 L346.42,160.32 L346.74,160.95 L347.05,161.63 L347.36,162.37 L347.67,163.16 L347.98,164.01 L348.29,164.91 L348.60,165.85 L348.91,166.85 L349.23,167.88 L349.54,168.96 L349.85,170.07 L350.16,171.21 L350.47,172.38 L350.78,173.57 L351.09,174.77 L351.40,175.99 L351.72,177.21 L352.03,178.42 L352.34,179.63 L352.65,180.81 L352.96,181.97 L353.27,183.10 L353.58,184.19 L353.89,185.24 L354.21,186.23 L354.52,187.16 L354.83,188.02 L355.14,188.81 L355.45,189.52 L355.76,190.15 L356.07,190.69 L356.38,191.13 L356.70,191.48 L357.01,191.74 L357.32,191.89 L357.63,191.94 L357.94,191.88 L358.25,191.71 L358.56,191.41 L358.87,191.01 L359.19,190.50 L359.50,189.88 L359.81,189.16 L360.12,188.35 L360.43,187.45 L360.74,186.47 L361.05,185.42 L361.36,184.31 L361.68,183.14 L361.99,181.93 L362.30,180.68 L362.61,179.40 L362.92,178.11 L363.23,176.80 L363.54,175.49 L363.85,174.19 L364.17,172.91 L364.48,171.64 L364.79,170.40 L365.10,169.20 L365.41,168.04 L365.72,166.92 L366.03,165.85 L366.34,164.84 L366.66,163.88 L366.97,162.98 L367.28,162.15 L367.59,161.37 L367.90,160.66 L368.21,160.02 L368.52,159.44 L368.83,158.93 L369.15,158.48 L369.46,158.11 L369.77,157.79 L370.08,157.55 L370.39,157.37 L370.70,157.26 L371.01,157.21 L371.32,157.23 L371.64,157.31 L371.95,157.44 L372.26,157.64 L372.57,157.89 L372.88,158.21 L373.19,158.59 L373.50,159.02 L373.81,159.52 L374.13,160.07 L374.44,160.68 L374.75,161.36 L375.06,162.09 L375.37,162.87 L375.68,163.72 L375.99,164.61 L376.30,165.56 L376.62,166.56 L376.93,167.60 L377.24,168.68 L377.55,169.80 L377.86,170.96 L378.17,172.14 L378.48,173.35 L378.79,174.57 L379.11,175.81 L379.42,177.05 L379.73,178.29 L380.04,179.51 L380.35,180.72 L380.66,181.90 L380.97,183.06 L381.28,184.17 L381.60,185.23 L381.91,186.24 L382.22,187.18 L382.53,188.06 L382.84,188.86 L383.15,189.57 L383.46,190.20 L383.77,190.74 L384.09,191.19 L384.40,191.53 L384.71,191.77 L385.02,191.91 L385.33,191.94 L385.64,191.86 L385.95,191.67 L386.26,191.36 L386.58,190.95 L386.89,190.44 L387.20,189.82 L387.51,189.11 L387.82,188.31 L388.13,187.42 L388.44,186.46 L388.75,185.43 L389.07,184.34 L389.38,183.19 L389.69,182.00 L390.00,180.78 L390.31,179.52 L390.62,178.25 L390.93,176.97 L391.24,175.69 L391.56,174.41 L391.87,173.14 L392.18,171.90 L392.49,170.68 L392.80,169.49 L393.11,168.34 L393.42,167.23 L393.73,166.16 L394.05,165.15 L394.36,164.19 L394.67,163.29 L394.98,162.45 L395.29,161.66 L395.60,160.94 L395.91,160.28 L396.22,159.69 L396.54,159.15 L396.85,158.69 L397.16,158.28 L397.47,157.95 L397.78,157.67 L398.09,157.46 L398.40,157.31 L398.71,157.23 L399.03,157.21 L399.34,157.25 L399.65,157.35 L399.96,157.51 L400.27,157.73 L400.58,158.01 L400.89,158.35 L401.20,158.75 L401.52,159.21 L401.83,159.73 L402.14,160.31 L402.45,160.95 L402.76,161.64 L403.07,162.40 L403.38,163.20 L403.69,164.07 L404.01,164.99 L404.32,165.95 L404.63,166.97 L404.94,168.03 L405.25,169.13 L405.56,170.26 L405.87,171.43 L406.18,172.62 L406.50,173.84 L406.81,175.07 L407.12,176.31 L407.43,177.54 L407.74,178.78 L408.05,180.00 L408.36,181.20 L408.67,182.37 L408.99,183.50 L409.30,184.60 L409.61,185.64 L409.92,186.62 L410.23,187.54 L410.54,188.39 L410.85,189.15 L411.16,189.84 L411.48,190.43 L411.79,190.93 L412.10,191.33 L412.41,191.64 L412.72,191.84 L413.03,191.93 L413.34,191.92 L413.65,191.79 L413.97,191.54 L414.28,191.19 L414.59,190.72 L414.90,190.14 L415.21,189.46 L415.52,188.68 L415.83,187.82 L416.14,186.87 L416.46,185.85 L416.77,184.76 L417.08,183.62 L417.39,182.42 L417.70,181.18 L418.01,179.92 L418.32,178.63 L418.63,177.32 L418.95,176.02 L419.26,174.71 L419.57,173.42 L419.88,172.14 L420.19,170.90 L420.50,169.68 L420.81,168.50 L421.12,167.36 L421.44,166.28 L421.75,165.24 L422.06,164.26 L422.37,163.34 L422.68,162.47 L422.99,161.67 L423.30,160.94 L423.61,160.27 L423.93,159.66 L424.24,159.13 L424.55,158.65 L424.86,158.25 L425.17,157.91 L425.48,157.64 L425.79,157.43 L426.10,157.29 L426.42,157.22 L426.73,157.21 L427.04,157.27 L427.35,157.39 L427.66,157.57 L427.97,157.81 L428.28,158.11 L428.59,158.47 L428.91,158.90 L429.22,159.39 L429.53,159.94 L429.84,160.55 L430.15,161.22 L430.46,161.95 L430.77,162.74 L431.08,163.59 L431.40,164.50 L431.71,165.46 L432.02,166.47 L432.33,167.52 L432.64,168.62 L432.95,169.76 L433.26,170.94 L433.57,172.14 L433.89,173.37 L434.20,174.62 L434.51,175.88 L434.82,177.14 L435.13,178.40 L435.44,179.64 L435.75,180.87 L436.06,182.07 L436.38,183.24 L436.69,184.36 L437.00,185.43 L437.31,186.44 L437.62,187.39 L437.93,188.26 L438.24,189.06 L438.55,189.76 L438.87,190.38 L439.18,190.90" stroke="#ff2626" stroke-width="1.9"/>
<path d="M444.40,173.11 L445.87,172.26 L447.34,171.44 L448.81,170.65 L450.28,169.90 L451.75,169.19 L453.22,168.50 L454.69,167.84 L456.16,167.20 L457.63,166.59 L459.10,166.00 L460.57,165.43 L462.03,164.88 L463.50,164.35 L464.97,163.82 L466.44,163.31 L467.91,162.81 L469.38,162.32 L470.85,161.83 L472.32,161.35 L473.79,160.88 L475.26,160.42 L476.73,159.97 L478.20,159.55 L479.67,159.14 L481.14,158.77 L482.61,158.42 L484.08,158.11 L485.55,157.82 L487.02,157.57 L488.49,157.35 L489.96,157.15 L491.43,156.98 L492.90,156.83 L494.37,156.70 L495.83,156.60 L497.30,156.52 L498.77,156.47 L500.24,156.47 L501.71,156.50 L503.18,156.56 L504.65,156.67 L506.12,156.80 L507.59,156.97 L509.06,157.17 L510.53,157.40 L512.00,157.65 L513.47,157.92 L514.94,158.22 L516.41,158.54 L517.88,158.87 L519.35,159.22 L520.82,159.59 L522.29,159.97 L523.76,160.36 L525.23,160.76 L526.70,161.17 L528.17,161.60 L529.63,162.03 L531.10,162.47 L532.57,162.92 L534.04,163.39 L535.51,163.88 L536.98,164.39 L538.45,164.92 L539.92,165.47 L541.39,166.05 L542.86,166.67 L544.33,167.31 L545.80,167.99" stroke="#ff2626" stroke-width="1.4"/>
<path d="M315.30,156.98 L315.61,157.01 L315.92,157.10 L316.23,157.25 L316.54,157.46 L316.86,157.73 L317.17,158.06 L317.48,158.45 L317.79,158.90 L318.10,159.41 L318.41,159.98 L318.72,160.61 L319.03,161.30 L319.35,162.04 L319.66,162.85 L319.97,163.71 L320.28,164.62 L320.59,165.58 L320.90,166.60 L321.21,167.65 L321.52,168.75 L321.84,169.89 L322.15,171.06 L322.46,172.25 L322.77,173.47 L323.08,174.71 L323.39,175.95 L323.70,177.20 L324.01,178.44 L324.33,179.67 L324.64,180.89 L324.95,182.07 L325.26,183.22 L325.57,184.33 L325.88,185.39 L326.19,186.39 L326.50,187.33 L326.82,188.20 L327.13,188.99 L327.44,189.69 L327.75,190.31 L328.06,190.83 L328.37,191.26 L328.68,191.58 L328.99,191.80 L329.31,191.92 L329.62,191.93 L329.93,191.83 L330.24,191.61 L330.55,191.29 L330.86,190.86 L331.17,190.32 L331.48,189.69 L331.80,188.95 L332.11,188.13 L332.42,187.23 L332.73,186.26 L333.04,185.21 L333.35,184.11 L333.66,182.96 L333.97,181.76 L334.29,180.53 L334.60,179.27 L334.91,178.00 L335.22,176.72 L335.53,175.43 L335.84,174.15 L336.15,172.89 L336.46,171.65 L336.78,170.44 L337.09,169.25 L337.40,168.11 L337.71,167.01 L338.02,165.96 L338.33,164.96 L338.64,164.01 L338.95,163.12 L339.27,162.28 L339.58,161.51 L339.89,160.80 L340.20,160.16 L340.51,159.58 L340.82,159.06 L341.13,158.60 L341.44,158.21 L341.76,157.89 L342.07,157.62 L342.38,157.43 L342.69,157.29 L343.00,157.22 L343.31,157.21 L343.62,157.27 L343.93,157.38 L344.25,157.54 L344.56,157.77 L344.87,158.05 L345.18,158.39 L345.49,158.78 L345.80,159.24 L346.11,159.75 L346.42,160.32 L346.74,160.95 L347.05,161.63 L347.36,162.37 L347.67,163.16 L347.98,164.01 L348.29,164.91 L348.60,165.85 L348.91,166.85 L349.23,167.88 L349.54,168.96 L349.85,170.07 L350.16,171.21 L350.47,172.38 L350.78,173.57 L351.09,174.77 L351.40,175.99 L351.72,177.21 L352.03,178.42 L352.34,179.63 L352.65,180.81 L352.96,181.97 L353.27,183.10 L353.58,184.19 L353.89,185.24 L354.21,186.23 L354.52,187.16 L354.83,188.02 L355.14,188.81 L355.45,189.52 L355.76,190.15 L356.07,190.69 L356.38,191.13 L356.70,191.48 L357.01,191.74 L357.32,191.89 L357.63,191.94 L357.94,191.88 L358.25,191.71 L358.56,191.41 L358.87,191.01 L359.19,190.50 L359.50,189.88 L359.81,189.16 L360.12,188.35 L360.43,187.45 L360.74,186.47 L361.05,185.42 L361.36,184.31 L361.68,183.14 L361.99,181.93 L362.30,180.68 L362.61,179.40 L362.92,178.11 L363.23,176.80 L363.54,175.49 L363.85,174.19 L364.17,172.91 L364.48,171.64 L364.79,170.40 L365.10,169.20 L365.41,168.04 L365.72,166.92 L366.03,165.85 L366.34,164.84 L366.66,163.88 L366.97,162.98 L367.28,162.15 L367.59,161.37 L367.90,160.66 L368.21,160.02 L368.52,159.44 L368.83,158.93 L369.15,158.48 L369.46,158.11 L369.77,157.79 L370.08,157.55 L370.39,157.37 L370.70,157.26 L371.01,157.21 L371.32,157.23 L371.64,157.31 L371.95,157.44 L372.26,157.64 L372.57,157.89 L372.88,158.21 L373.19,158.59 L373.50,159.02 L373.81,159.52 L374.13,160.07 L374.44,160.68 L374.75,161.36 L375.06,162.09 L375.37,162.87 L375.68,163.72 L375.99,164.61 L376.30,165.56 L376.62,166.56 L376.93,167.60 L377.24,168.68 L377.55,169.80 L377.86,170.96 L378.17,172.14 L378.48,173.35 L378.79,174.57 L379.11,175.81 L379.42,177.05 L379.73,178.29 L380.04,179.51 L380.35,180.72 L380.66,181.90 L380.97,183.06 L381.28,184.17 L381.60,185.23 L381.91,186.24 L382.22,187.18 L382.53,188.06 L382.84,188.86 L383.15,189.57 L383.46,190.20 L383.77,190.74 L384.09,191.19 L384.40,191.53 L384.71,191.77 L385.02,191.91 L385.33,191.94 L385.64,191.86 L385.95,191.67 L386.26,191.36 L386.58,190.95 L386.89,190.44 L387.20,189.82 L387.51,189.11 L387.82,188.31 L388.13,187.42 L388.44,186.46 L388.75,185.43 L389.07,184.34 L389.38,183.19 L389.69,182.00 L390.00,180.78 L390.31,179.52 L390.62,178.25 L390.93,176.97 L391.24,175.69 L391.56,174.41 L391.87,173.14 L392.18,171.90 L392.49,170.68 L392.80,169.49 L393.11,168.34 L393.42,167.23 L393.73,166.16 L394.05,165.15 L394.36,164.19 L394.67,163.29 L394.98,162.45 L395.29,161.66 L395.60,160.94 L395.91,160.28 L396.22,159.69 L396.54,159.15 L396.85,158.69 L397.16,158.28 L397.47,157.95 L397.78,157.67 L398.09,157.46 L398.40,157.31 L398.71,157.23 L399.03,157.21 L399.34,157.25 L399.65,157.35 L399.96,157.51 L400.27,157.73 L400.58,158.01 L400.89,158.35 L401.20,158.75 L401.52,159.21 L401.83,159.73 L402.14,160.31 L402.45,160.95 L402.76,161.64 L403.07,162.40 L403.38,163.20 L403.69,164.07 L404.01,164.99 L404.32,165.95 L404.63,166.97 L404.94,168.03 L405.25,169.13 L405.56,170.26 L405.87,171.43 L406.18,172.62 L406.50,173.84 L406.81,175.07 L407.12,176.31 L407.43,177.54 L407.74,178.78 L408.05,180.00 L408.36,181.20 L408.67,182.37 L408.99,183.50 L409.30,184.60 L409.61,185.64 L409.92,186.62 L410.23,187.54 L410.54,188.39 L410.85,189.15 L411.16,189.84 L411.48,190.43 L411.79,190.93 L412.10,191.33 L412.41,191.64 L412.72,191.84 L413.03,191.93 L413.34,191.92 L413.65,191.79 L413.97,191.54 L414.28,191.19 L414.59,190.72 L414.90,190.14 L415.21,189.46 L415.52,188.68 L415.83,187.82 L416.14,186.87 L416.46,185.85 L416.77,184.76 L417.08,183.62 L417.39,182.42 L417.70,181.18 L418.01,179.92 L418.32,178.63 L418.63,177.32 L418.95,176.02 L419.26,174.71 L419.57,173.42 L419.88,172.14 L420.19,170.90 L420.50,169.68 L420.81,168.50 L421.12,167.36 L421.44,166.28 L421.75,165.24 L422.06,164.26 L422.37,163.34 L422.68,162.47 L422.99,161.67 L423.30,160.94 L423.61,160.27 L423.93,159.66 L424.24,159.13 L424.55,158.65 L424.86,158.25 L425.17,157.91 L425.48,157.64 L425.79,157.43 L426.10,157.29 L426.42,157.22 L426.73,157.21 L427.04,157.27 L427.35,157.39 L427.66,157.57 L427.97,157.81 L428.28,158.11 L428.59,158.47 L428.91,158.90 L429.22,159.39 L429.53,159.94 L429.84,160.55 L430.15,161.22 L430.46,161.95 L430.77,162.74 L431.08,163.59 L431.40,164.50 L431.71,165.46 L432.02,166.47 L432.33,167.52 L432.64,168.62 L432.95,169.76 L433.26,170.94 L433.57,172.14 L433.89,173.37 L434.20,174.62 L434.51,175.88 L434.82,177.14 L435.13,178.40 L435.44,179.64 L435.75,180.87 L436.06,182.07 L436.38,183.24 L436.69,184.36 L437.00,185.43 L437.31,186.44 L437.62,187.39 L437.93,188.26 L438.24,189.06 L438.55,189.76 L438.87,190.38 L439.18,190.90" stroke="#0a6cf5" stroke-width="2.0" stroke-dasharray="3.8 2.9"/>
<path d="M444.40,173.10 L445.87,172.23 L447.34,171.40 L448.81,170.60 L450.28,169.84 L451.75,169.11 L453.22,168.41 L454.69,167.74 L456.16,167.10 L457.63,166.48 L459.10,165.88 L460.57,165.30 L462.03,164.74 L463.50,164.20 L464.97,163.67 L466.44,163.15 L467.91,162.64 L469.38,162.14 L470.85,161.65 L472.32,161.16 L473.79,160.68 L475.26,160.21 L476.73,159.76 L478.20,159.32 L479.67,158.92 L481.14,158.53 L482.61,158.18 L484.08,157.86 L485.55,157.58 L487.02,157.32 L488.49,157.09 L489.96,156.89 L491.43,156.72 L492.90,156.56 L494.37,156.44 L495.83,156.33 L497.30,156.25 L498.77,156.21 L500.24,156.20 L501.71,156.23 L503.18,156.30 L504.65,156.40 L506.12,156.54 L507.59,156.71 L509.06,156.91 L510.53,157.14 L512.00,157.40 L513.47,157.68 L514.94,157.98 L516.41,158.30 L517.88,158.64 L519.35,159.00 L520.82,159.37 L522.29,159.75 L523.76,160.15 L525.23,160.56 L526.70,160.98 L528.17,161.41 L529.63,161.84 L531.10,162.29 L532.57,162.75 L534.04,163.23 L535.51,163.72 L536.98,164.24 L538.45,164.78 L539.92,165.34 L541.39,165.93 L542.86,166.56 L544.33,167.21 L545.80,167.90" stroke="#0a6cf5" stroke-width="1.6" stroke-dasharray="3.8 2.9"/>
</g>
<path d="M315.30,128.00 H439.80 M443.90,128.00 H545.80 M315.30,220.00 H439.80 M443.90,220.00 H545.80 M315.30,127.50 V220.50 M545.80,127.50 V220.50 M315.30,220.00 v-3.6 M315.30,128.00 v3.6 M327.75,220.00 v-2.2 M327.75,128.00 v2.2 M340.20,220.00 v-3.6 M340.20,128.00 v3.6 M352.65,220.00 v-2.2 M352.65,128.00 v2.2 M365.10,220.00 v-3.6 M365.10,128.00 v3.6 M377.55,220.00 v-2.2 M377.55,128.00 v2.2 M390.00,220.00 v-3.6 M390.00,128.00 v3.6 M402.45,220.00 v-2.2 M402.45,128.00 v2.2 M414.90,220.00 v-3.6 M414.90,128.00 v3.6 M427.35,220.00 v-2.2 M427.35,128.00 v2.2 M454.12,220.00 v-3.6 M454.12,128.00 v3.6 M464.34,220.00 v-2.2 M464.34,128.00 v2.2 M474.56,220.00 v-3.6 M474.56,128.00 v3.6 M484.78,220.00 v-2.2 M484.78,128.00 v2.2 M495.00,220.00 v-3.6 M495.00,128.00 v3.6 M505.22,220.00 v-2.2 M505.22,128.00 v2.2 M515.44,220.00 v-3.6 M515.44,128.00 v3.6 M525.66,220.00 v-2.2 M525.66,128.00 v2.2 M535.88,220.00 v-3.6 M535.88,128.00 v3.6 M546.10,220.00 v-2.2 M546.10,128.00 v2.2 M315.30,220.00 h3.6 M545.80,220.00 h-3.6 M315.30,197.00 h2.2 M545.80,197.00 h-2.2 M315.30,174.00 h3.6 M545.80,174.00 h-3.6 M315.30,151.00 h2.2 M545.80,151.00 h-2.2 M315.30,128.00 h3.6 M545.80,128.00 h-3.6" fill="none" stroke="#1c1c1c" stroke-width="1.25"/>
<path d="M438.70,131.60 L442.70,124.40 M442.20,131.60 L446.20,124.40 M438.70,223.60 L442.70,216.40 M442.20,223.60 L446.20,216.40" fill="none" stroke="#1c1c1c" stroke-width="1.3"/>
<g text-anchor="middle">
<text x="315.3" y="232.1">30</text>
<text x="340.2" y="232.1">31</text>
<text x="365.1" y="232.1">32</text>
<text x="390.0" y="232.1">33</text>
<text x="414.9" y="232.1">34</text>
<text x="454.1" y="232.1">39.8</text>
<text x="474.6" y="232.1">39.9</text>
<text x="495.0" y="232.1">40.0</text>
<text x="515.4" y="232.1">40.1</text>
<text x="535.9" y="232.1">40.2</text>
</g>
<g text-anchor="end">
<text x="311.4" y="131.3">1</text>
<text x="311.4" y="177.3">0</text>
<text x="311.4" y="223.3">−1</text>
</g>
<text x="430.7" y="239.2" text-anchor="middle"><tspan font-style="italic">t</tspan> (s)</text>
<text x="320.3" y="140.8">(d) Vertical force on Box B</text>
<text transform="translate(294.3,198.0) rotate(-90)" font-style="italic"><tspan>f</tspan><tspan font-size="6.5" dy="2.7">v</tspan><tspan font-size="6.5" dy="-6.9" dx="0.4" font-style="normal">B</tspan><tspan dy="4.2" font-style="normal">/(</tspan><tspan>ρghA</tspan><tspan font-size="6.5" dy="2.8" font-style="normal">0</tspan><tspan dy="-2.8">W</tspan><tspan font-style="normal">)</tspan></text>
</g>
</svg>
</body></html>
